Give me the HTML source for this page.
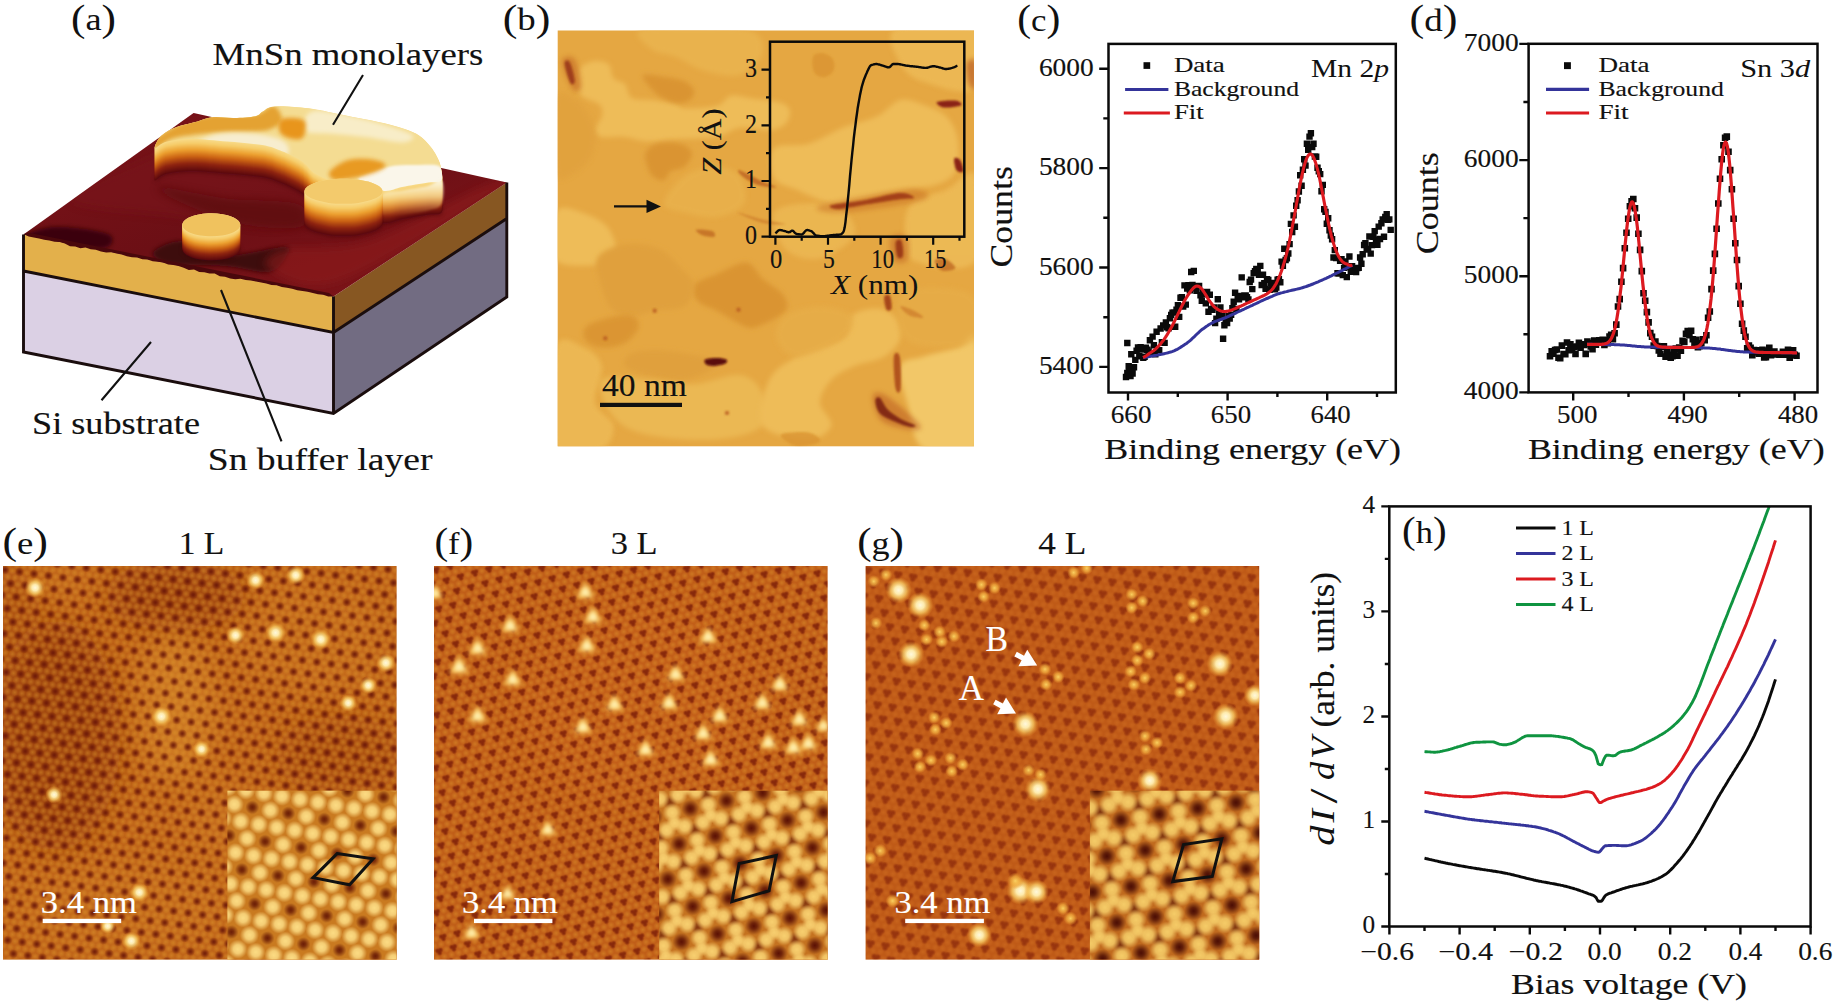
<!DOCTYPE html>
<html lang="en"><head><meta charset="utf-8"><title>MnSn monolayers figure</title>
<style>
html,body{margin:0;padding:0;background:#fff;}
body{width:1834px;height:1002px;overflow:hidden;}
svg{display:block;font-family:"Liberation Serif","Noto Serif CJK SC",serif;}
text{white-space:pre;}
</style></head><body>
<svg width="1834" height="1002" viewBox="0 0 1834 1002">
<rect width="1834" height="1002" fill="#fff"/>
<defs>
<linearGradient id="aTop" x1="0" y1="0" x2="1" y2="1"><stop offset="0" stop-color="#7c1419"/><stop offset="0.5" stop-color="#6c0f15"/><stop offset="1" stop-color="#82161a"/></linearGradient>
<filter id="ab2" x="-20%" y="-20%" width="140%" height="140%"><feGaussianBlur stdDeviation="2"/></filter>
<filter id="ab1" x="-20%" y="-20%" width="140%" height="140%"><feGaussianBlur stdDeviation="1"/></filter>
<filter id="ab4" x="-20%" y="-20%" width="140%" height="140%"><feGaussianBlur stdDeviation="4"/></filter>
<clipPath id="aTopClip"><polygon points="23.5,234.5 193.6,113 506.8,182.5 333.5,296.5"/></clipPath>
</defs>
<polygon points="23.5,271.0 333.5,332.5 333.5,413.4 23.5,352.0" fill="#dbd0e4"/>
<polygon points="333.5,332.5 506.8,218.5 506.8,297.0 333.5,413.4" fill="#726c82"/>
<polygon points="23.5,234.5 333.5,296.5 333.5,332.5 23.5,271.0" fill="#e3b04b"/>
<polygon points="333.5,296.5 506.8,182.5 506.8,218.5 333.5,332.5" fill="#875722"/>
<polygon points="23.5,234.5 193.6,113.0 506.8,182.5 333.5,296.5" fill="url(#aTop)"/>
<g clip-path="url(#aTopClip)">
<path d="M22.7 235.3C28.1 233.5 42.5 227.0 56.7 226.8C70.9 226.6 100.0 230.5 108.0 234.0C116.0 237.5 113.0 246.0 105.0 248.0C97.0 250.0 73.5 247.7 60.0 246.0C46.5 244.3 30.2 239.8 24.0 238.0C17.8 236.2 17.2 237.2 22.7 235.3Z" fill="#3a060a" filter="url(#ab2)"/>
<path d="M153.1 252.3C155.0 248.6 169.2 240.5 181.5 241.0C193.7 241.5 209.8 254.2 226.8 255.2C243.8 256.1 273.6 246.4 283.5 246.7C293.5 246.9 288.7 252.3 286.4 256.6C284.0 260.8 279.3 270.5 269.4 272.2C259.4 273.8 243.4 267.9 226.8 266.5C210.3 265.1 182.4 266.0 170.1 263.7C157.8 261.3 151.2 256.1 153.1 252.3Z" fill="#3d070b" filter="url(#ab2)"/>
<path d="M70.9 198.5C70.9 187.1 148.9 160.7 170.1 147.4C191.4 134.2 174.8 110.6 198.5 119.1C222.1 127.6 297.7 180.5 311.9 198.5C326.1 216.4 307.2 224.0 283.5 226.8C259.9 229.7 205.6 220.2 170.1 215.5C134.7 210.8 70.9 209.8 70.9 198.5Z" fill="#7a141a" opacity="0.5" filter="url(#ab4)"/>
<path d="M283.5 249.5C300.1 244.8 335.5 251.4 368.6 241.0C401.7 230.6 459.3 196.1 482.0 187.1C504.7 178.1 528.3 171.5 504.7 187.1C481.1 202.7 379.5 267.0 340.2 280.7C301.0 294.4 278.8 274.5 269.4 269.4C259.9 264.2 267.0 254.2 283.5 249.5Z" fill="#8e1c1c" opacity="0.6" filter="url(#ab4)"/>
<path d="M158.8 187.1C165.9 186.2 203.7 195.6 226.8 198.5C250.0 201.3 285.4 199.4 297.7 204.1C310.0 208.9 310.0 223.5 300.5 226.8C291.1 230.1 260.4 227.8 241.0 224.0C221.6 220.2 198.0 210.3 184.3 204.1C170.6 198.0 151.7 188.1 158.8 187.1Z" fill="#5a0a10" opacity="0.7" filter="url(#ab4)"/>
</g>
<polygon points="23.5,234.1 28.7,236.4 33.8,237.5 39.0,238.6 44.2,239.8 49.3,240.6 54.5,241.8 59.7,242.0 64.8,243.4 70.0,246.3 75.2,246.6 80.3,248.2 85.5,247.4 90.7,249.3 95.8,249.8 101.0,251.5 106.2,252.6 111.3,252.3 116.5,253.5 121.7,254.6 126.8,256.3 132.0,257.2 137.2,257.6 142.3,259.3 147.5,259.6 152.7,261.2 157.8,261.7 163.0,262.6 168.2,264.5 173.3,264.9 178.5,265.9 183.7,267.7 188.8,269.9 194.0,269.5 199.2,272.1 204.3,272.2 209.5,273.5 214.7,273.4 219.8,276.2 225.0,276.7 230.2,278.4 235.3,279.2 240.5,278.8 245.7,280.0 250.8,280.6 256.0,281.5 261.2,282.4 266.3,283.6 271.5,284.9 276.7,285.3 281.8,287.0 287.0,287.7 292.2,288.7 297.3,290.3 302.5,291.0 307.7,291.8 312.8,293.0 318.0,294.3 323.2,294.7 328.3,296.6 333.5,296.5 329.0,293.0 30.0,233.0" fill="#4a080c"/>
<path d="M154.8 148.5C153.7 147.9 157.0 140.9 159.2 138.0C161.4 135.1 164.5 133.1 167.9 131.0C171.4 129.0 175.2 127.4 180.2 125.8C185.1 124.2 192.1 122.9 197.6 121.4C203.2 120.0 207.2 117.7 213.4 117.1C219.5 116.5 227.3 118.1 234.3 117.9C241.3 117.8 250.6 117.2 255.3 116.2C259.9 115.2 259.7 113.4 262.3 111.8C264.9 110.3 266.6 107.8 271.0 106.9C275.4 106.1 281.2 106.2 288.5 106.6C295.7 107.0 307.4 108.2 314.7 109.2C322.0 110.2 324.9 111.3 332.1 112.7C339.4 114.2 349.6 116.2 358.3 117.9C367.1 119.7 376.7 121.3 384.5 123.2C392.4 125.1 399.7 127.2 405.5 129.3C411.3 131.4 415.4 133.0 419.5 135.8C423.6 138.5 427.0 142.5 430.0 145.9C432.9 149.3 435.1 152.9 436.9 156.4C438.7 159.9 440.1 162.8 440.8 166.9C441.5 170.9 443.4 178.2 441.3 180.8C439.2 183.4 434.8 181.5 428.2 182.6C421.7 183.6 409.3 185.7 402.0 187.1C394.7 188.5 391.8 191.4 384.5 191.0C377.3 190.5 367.1 186.0 358.3 184.3C349.6 182.6 339.4 182.6 332.1 180.8C324.9 179.0 319.0 176.2 314.7 173.5C310.3 170.8 308.9 167.3 305.9 164.8C303.0 162.3 301.6 160.9 297.2 158.5C292.8 156.1 285.6 152.5 279.7 150.3C273.9 148.0 271.0 146.5 262.3 145.0C253.5 143.6 239.0 142.5 227.3 141.5C215.7 140.5 202.6 138.9 192.4 138.9C182.2 138.9 172.5 140.1 166.2 141.7C159.9 143.3 156.0 149.1 154.8 148.5Z" transform="translate(0,33)" fill="#40060a" opacity="0.55" filter="url(#ab2)"/>
<defs><path id="aBig" d="M154.8 148.5C153.7 147.9 157.0 140.9 159.2 138.0C161.4 135.1 164.5 133.1 167.9 131.0C171.4 129.0 175.2 127.4 180.2 125.8C185.1 124.2 192.1 122.9 197.6 121.4C203.2 120.0 207.2 117.7 213.4 117.1C219.5 116.5 227.3 118.1 234.3 117.9C241.3 117.8 250.6 117.2 255.3 116.2C259.9 115.2 259.7 113.4 262.3 111.8C264.9 110.3 266.6 107.8 271.0 106.9C275.4 106.1 281.2 106.2 288.5 106.6C295.7 107.0 307.4 108.2 314.7 109.2C322.0 110.2 324.9 111.3 332.1 112.7C339.4 114.2 349.6 116.2 358.3 117.9C367.1 119.7 376.7 121.3 384.5 123.2C392.4 125.1 399.7 127.2 405.5 129.3C411.3 131.4 415.4 133.0 419.5 135.8C423.6 138.5 427.0 142.5 430.0 145.9C432.9 149.3 435.1 152.9 436.9 156.4C438.7 159.9 440.1 162.8 440.8 166.9C441.5 170.9 443.4 178.2 441.3 180.8C439.2 183.4 434.8 181.5 428.2 182.6C421.7 183.6 409.3 185.7 402.0 187.1C394.7 188.5 391.8 191.4 384.5 191.0C377.3 190.5 367.1 186.0 358.3 184.3C349.6 182.6 339.4 182.6 332.1 180.8C324.9 179.0 319.0 176.2 314.7 173.5C310.3 170.8 308.9 167.3 305.9 164.8C303.0 162.3 301.6 160.9 297.2 158.5C292.8 156.1 285.6 152.5 279.7 150.3C273.9 148.0 271.0 146.5 262.3 145.0C253.5 143.6 239.0 142.5 227.3 141.5C215.7 140.5 202.6 138.9 192.4 138.9C182.2 138.9 172.5 140.1 166.2 141.7C159.9 143.3 156.0 149.1 154.8 148.5Z"/></defs>
<use href="#aBig" y="32.0" fill="#5e0a0e"/>
<use href="#aBig" y="31.0" fill="#650e0e"/>
<use href="#aBig" y="30.0" fill="#6c110f"/>
<use href="#aBig" y="29.0" fill="#72150f"/>
<use href="#aBig" y="28.0" fill="#79190f"/>
<use href="#aBig" y="27.0" fill="#801c0f"/>
<use href="#aBig" y="26.0" fill="#872010"/>
<use href="#aBig" y="25.0" fill="#8e2410"/>
<use href="#aBig" y="24.0" fill="#962c11"/>
<use href="#aBig" y="23.0" fill="#9f3511"/>
<use href="#aBig" y="22.0" fill="#a73e12"/>
<use href="#aBig" y="21.0" fill="#af4612"/>
<use href="#aBig" y="20.0" fill="#b84f13"/>
<use href="#aBig" y="19.0" fill="#c05813"/>
<use href="#aBig" y="18.0" fill="#c96114"/>
<use href="#aBig" y="17.0" fill="#cf6a17"/>
<use href="#aBig" y="16.0" fill="#d4731b"/>
<use href="#aBig" y="15.0" fill="#d97c1f"/>
<use href="#aBig" y="14.0" fill="#de8624"/>
<use href="#aBig" y="13.0" fill="#e38f28"/>
<use href="#aBig" y="12.0" fill="#e8982c"/>
<use href="#aBig" y="11.0" fill="#eca132"/>
<use href="#aBig" y="10.0" fill="#eea83b"/>
<use href="#aBig" y="9.0" fill="#efaf44"/>
<use href="#aBig" y="8.0" fill="#f1b64d"/>
<use href="#aBig" y="7.0" fill="#f3bd56"/>
<use href="#aBig" y="6.0" fill="#f4c45f"/>
<use href="#aBig" y="5.0" fill="#f6cb68"/>
<use href="#aBig" y="4.0" fill="#f6cf70"/>
<use href="#aBig" y="3.0" fill="#f7d277"/>
<use href="#aBig" y="2.0" fill="#f7d57e"/>
<use href="#aBig" y="1.0" fill="#f8d985"/>
<use href="#aBig" y="0.0" fill="#f8dc8c"/>
<clipPath id="bigClip"><path d="M154.8 148.5C153.7 147.9 157.0 140.9 159.2 138.0C161.4 135.1 164.5 133.1 167.9 131.0C171.4 129.0 175.2 127.4 180.2 125.8C185.1 124.2 192.1 122.9 197.6 121.4C203.2 120.0 207.2 117.7 213.4 117.1C219.5 116.5 227.3 118.1 234.3 117.9C241.3 117.8 250.6 117.2 255.3 116.2C259.9 115.2 259.7 113.4 262.3 111.8C264.9 110.3 266.6 107.8 271.0 106.9C275.4 106.1 281.2 106.2 288.5 106.6C295.7 107.0 307.4 108.2 314.7 109.2C322.0 110.2 324.9 111.3 332.1 112.7C339.4 114.2 349.6 116.2 358.3 117.9C367.1 119.7 376.7 121.3 384.5 123.2C392.4 125.1 399.7 127.2 405.5 129.3C411.3 131.4 415.4 133.0 419.5 135.8C423.6 138.5 427.0 142.5 430.0 145.9C432.9 149.3 435.1 152.9 436.9 156.4C438.7 159.9 440.1 162.8 440.8 166.9C441.5 170.9 443.4 178.2 441.3 180.8C439.2 183.4 434.8 181.5 428.2 182.6C421.7 183.6 409.3 185.7 402.0 187.1C394.7 188.5 391.8 191.4 384.5 191.0C377.3 190.5 367.1 186.0 358.3 184.3C349.6 182.6 339.4 182.6 332.1 180.8C324.9 179.0 319.0 176.2 314.7 173.5C310.3 170.8 308.9 167.3 305.9 164.8C303.0 162.3 301.6 160.9 297.2 158.5C292.8 156.1 285.6 152.5 279.7 150.3C273.9 148.0 271.0 146.5 262.3 145.0C253.5 143.6 239.0 142.5 227.3 141.5C215.7 140.5 202.6 138.9 192.4 138.9C182.2 138.9 172.5 140.1 166.2 141.7C159.9 143.3 156.0 149.1 154.8 148.5Z"/></clipPath>
<g clip-path="url(#bigClip)">
<path d="M154.8 148.5C153.7 147.9 157.0 140.9 159.2 138.0C161.4 135.1 164.5 133.1 167.9 131.0C171.4 129.0 175.2 127.4 180.2 125.8C185.1 124.2 192.1 122.9 197.6 121.4C203.2 120.0 207.2 117.7 213.4 117.1C219.5 116.5 227.3 118.1 234.3 117.9C241.3 117.8 250.6 117.2 255.3 116.2C259.9 115.2 259.7 113.4 262.3 111.8C264.9 110.3 266.6 107.8 271.0 106.9C275.4 106.1 281.2 106.2 288.5 106.6C295.7 107.0 307.4 108.2 314.7 109.2C322.0 110.2 324.9 111.3 332.1 112.7C339.4 114.2 349.6 116.2 358.3 117.9C367.1 119.7 376.7 121.3 384.5 123.2C392.4 125.1 399.7 127.2 405.5 129.3C411.3 131.4 415.4 133.0 419.5 135.8C423.6 138.5 427.0 142.5 430.0 145.9C432.9 149.3 435.1 152.9 436.9 156.4C438.7 159.9 440.1 162.8 440.8 166.9C441.5 170.9 443.4 178.2 441.3 180.8C439.2 183.4 434.8 181.5 428.2 182.6C421.7 183.6 409.3 185.7 402.0 187.1C394.7 188.5 391.8 191.4 384.5 191.0C377.3 190.5 367.1 186.0 358.3 184.3C349.6 182.6 339.4 182.6 332.1 180.8C324.9 179.0 319.0 176.2 314.7 173.5C310.3 170.8 308.9 167.3 305.9 164.8C303.0 162.3 301.6 160.9 297.2 158.5C292.8 156.1 285.6 152.5 279.7 150.3C273.9 148.0 271.0 146.5 262.3 145.0C253.5 143.6 239.0 142.5 227.3 141.5C215.7 140.5 202.6 138.9 192.4 138.9C182.2 138.9 172.5 140.1 166.2 141.7C159.9 143.3 156.0 149.1 154.8 148.5Z" fill="#f4dc92"/>
<path d="M150.5 142.4C154.3 138.5 169.7 128.6 180.2 124.1C190.7 119.5 200.8 116.9 213.4 115.3C225.9 113.7 245.4 116.1 255.3 114.5C265.2 112.9 268.4 105.4 272.8 105.7C277.1 106.0 280.6 113.0 281.5 116.2C282.4 119.4 281.2 122.5 278.0 124.9C274.8 127.4 270.7 129.9 262.3 131.0C253.8 132.2 238.4 131.3 227.3 131.9C216.3 132.5 205.2 133.4 195.9 134.5C186.6 135.7 177.8 136.7 171.4 138.9C165.0 141.1 161.0 147.1 157.5 147.6C154.0 148.2 146.7 146.3 150.5 142.4Z" fill="#e4a232" filter="url(#ab2)"/>
<path d="M197.6 141.5C200.6 139.8 209.3 135.3 218.6 134.0C227.9 132.7 243.3 132.8 253.5 133.7C263.7 134.5 273.9 136.9 279.7 139.3C285.6 141.6 287.6 145.0 288.5 147.6C289.3 150.3 289.3 154.7 285.0 155.0C280.6 155.2 271.9 150.6 262.3 149.0C252.7 147.5 237.5 146.3 227.3 145.5C217.1 144.8 206.1 145.2 201.1 144.5C196.2 143.8 194.7 143.3 197.6 141.5Z" fill="#f7edcf" filter="url(#ab2)"/>
<path d="M304.2 121.4C305.4 117.9 307.1 111.8 314.7 111.0C322.2 110.1 338.0 113.9 349.6 116.2C361.3 118.5 374.1 121.7 384.5 124.9C395.0 128.1 409.6 132.5 412.5 135.4C415.4 138.3 409.6 142.1 402.0 142.4C394.4 142.7 378.7 138.6 367.1 137.2C355.4 135.7 342.0 134.5 332.1 133.7C322.2 132.8 312.3 134.0 307.7 131.9C303.0 129.9 303.0 124.9 304.2 121.4Z" fill="#f8edc8" filter="url(#ab2)"/>
<path d="M358.3 178.2C361.0 174.4 377.8 169.0 388.0 166.9C398.2 164.7 410.7 165.1 419.5 165.1C428.2 165.1 436.7 163.9 440.4 166.9C444.2 169.8 448.6 178.2 442.2 182.6C435.8 186.9 411.6 190.9 402.0 193.1C392.4 195.2 389.5 196.3 384.5 195.7C379.6 195.1 376.7 192.5 372.3 189.6C367.9 186.7 355.7 182.0 358.3 178.2Z" fill="#faf6ea" filter="url(#ab1)"/>
<path d="M279.7 120.6C281.5 118.2 286.1 117.9 290.2 117.9C294.3 117.9 301.7 118.2 304.2 120.6C306.7 122.9 305.6 128.9 305.1 131.9C304.5 135.0 303.5 137.9 300.7 138.9C297.9 139.9 292.0 139.2 288.5 138.0C285.0 136.9 281.2 134.8 279.7 131.9C278.3 129.0 278.0 122.9 279.7 120.6Z" fill="#e8951f" filter="url(#ab2)"/>
<path d="M329.5 172.1C331.3 168.9 339.9 162.9 346.1 160.7C352.4 158.6 360.7 158.6 367.1 159.0C373.5 159.4 382.2 161.6 384.5 163.4C386.9 165.1 385.1 167.3 381.0 169.5C377.0 171.7 367.7 174.7 360.1 176.5C352.5 178.2 340.7 180.7 335.6 180.0C330.5 179.2 327.8 175.3 329.5 172.1Z" fill="#e89a24" filter="url(#ab2)"/>
</g>
<linearGradient id="aWW" x1="0" y1="0" x2="0" y2="1"><stop offset="0" stop-color="#fbf6e6" stop-opacity="0.95"/><stop offset="0.45" stop-color="#f8e4a8" stop-opacity="0.7"/><stop offset="1" stop-color="#f0b040" stop-opacity="0"/></linearGradient>
<path d="M381.9 194.8C385.1 190.6 394.3 192.0 402.0 190.4C409.7 188.9 421.6 187.4 428.2 185.7C434.8 184.1 439.6 177.5 441.8 180.5C444.1 183.4 444.1 198.5 441.8 203.5C439.6 208.5 434.8 208.6 428.2 210.5C421.6 212.4 409.6 214.0 402.0 214.9C394.4 215.8 386.1 219.1 382.8 215.8C379.4 212.4 378.7 199.0 381.9 194.8Z" fill="url(#aWW)" filter="url(#ab1)"/>
<path d="M382.5 191.3C382.5 192.9 381.4 194.6 379.5 196.1C377.6 197.6 374.6 199.0 371.1 200.1C367.6 201.3 363.0 202.2 358.4 202.9C353.8 203.5 348.5 203.8 343.5 203.8C338.5 203.8 333.2 203.5 328.6 202.9C324.0 202.2 319.4 201.3 315.9 200.1C312.4 199.0 309.4 197.6 307.5 196.1C305.6 194.6 304.5 192.9 304.5 191.3C304.5 189.7 305.6 188.0 307.5 186.5C309.4 185.1 312.4 183.6 315.9 182.5C319.4 181.3 324.0 180.4 328.6 179.8C333.2 179.2 338.5 178.8 343.5 178.8C348.5 178.8 353.8 179.2 358.4 179.8C363.0 180.4 367.6 181.3 371.1 182.5C374.6 183.6 377.6 185.1 379.5 186.5C381.4 188.0 382.5 189.7 382.5 191.3Z" transform="translate(0,33)" fill="#40060a" opacity="0.55" filter="url(#ab2)"/>
<defs><path id="aLobe" d="M382.5 191.3C382.5 192.9 381.4 194.6 379.5 196.1C377.6 197.6 374.6 199.0 371.1 200.1C367.6 201.3 363.0 202.2 358.4 202.9C353.8 203.5 348.5 203.8 343.5 203.8C338.5 203.8 333.2 203.5 328.6 202.9C324.0 202.2 319.4 201.3 315.9 200.1C312.4 199.0 309.4 197.6 307.5 196.1C305.6 194.6 304.5 192.9 304.5 191.3C304.5 189.7 305.6 188.0 307.5 186.5C309.4 185.1 312.4 183.6 315.9 182.5C319.4 181.3 324.0 180.4 328.6 179.8C333.2 179.2 338.5 178.8 343.5 178.8C348.5 178.8 353.8 179.2 358.4 179.8C363.0 180.4 367.6 181.3 371.1 182.5C374.6 183.6 377.6 185.1 379.5 186.5C381.4 188.0 382.5 189.7 382.5 191.3Z"/></defs>
<use href="#aLobe" y="32.0" fill="#5e0a0e"/>
<use href="#aLobe" y="31.0" fill="#650e0e"/>
<use href="#aLobe" y="30.0" fill="#6c110f"/>
<use href="#aLobe" y="29.0" fill="#72150f"/>
<use href="#aLobe" y="28.0" fill="#79190f"/>
<use href="#aLobe" y="27.0" fill="#801c0f"/>
<use href="#aLobe" y="26.0" fill="#872010"/>
<use href="#aLobe" y="25.0" fill="#8e2410"/>
<use href="#aLobe" y="24.0" fill="#962c11"/>
<use href="#aLobe" y="23.0" fill="#9f3511"/>
<use href="#aLobe" y="22.0" fill="#a73e12"/>
<use href="#aLobe" y="21.0" fill="#af4612"/>
<use href="#aLobe" y="20.0" fill="#b84f13"/>
<use href="#aLobe" y="19.0" fill="#c05813"/>
<use href="#aLobe" y="18.0" fill="#c96114"/>
<use href="#aLobe" y="17.0" fill="#cf6a17"/>
<use href="#aLobe" y="16.0" fill="#d4731b"/>
<use href="#aLobe" y="15.0" fill="#d97c1f"/>
<use href="#aLobe" y="14.0" fill="#de8624"/>
<use href="#aLobe" y="13.0" fill="#e38f28"/>
<use href="#aLobe" y="12.0" fill="#e8982c"/>
<use href="#aLobe" y="11.0" fill="#eca132"/>
<use href="#aLobe" y="10.0" fill="#eea83b"/>
<use href="#aLobe" y="9.0" fill="#efaf44"/>
<use href="#aLobe" y="8.0" fill="#f1b64d"/>
<use href="#aLobe" y="7.0" fill="#f3bd56"/>
<use href="#aLobe" y="6.0" fill="#f4c45f"/>
<use href="#aLobe" y="5.0" fill="#f6cb68"/>
<use href="#aLobe" y="4.0" fill="#f6cf70"/>
<use href="#aLobe" y="3.0" fill="#f7d277"/>
<use href="#aLobe" y="2.0" fill="#f7d57e"/>
<use href="#aLobe" y="1.0" fill="#f8d985"/>
<use href="#aLobe" y="0.0" fill="#f8dc8c"/>
<path d="M382.5 191.3C382.5 192.9 381.4 194.6 379.5 196.1C377.6 197.6 374.6 199.0 371.1 200.1C367.6 201.3 363.0 202.2 358.4 202.9C353.8 203.5 348.5 203.8 343.5 203.8C338.5 203.8 333.2 203.5 328.6 202.9C324.0 202.2 319.4 201.3 315.9 200.1C312.4 199.0 309.4 197.6 307.5 196.1C305.6 194.6 304.5 192.9 304.5 191.3C304.5 189.7 305.6 188.0 307.5 186.5C309.4 185.1 312.4 183.6 315.9 182.5C319.4 181.3 324.0 180.4 328.6 179.8C333.2 179.2 338.5 178.8 343.5 178.8C348.5 178.8 353.8 179.2 358.4 179.8C363.0 180.4 367.6 181.3 371.1 182.5C374.6 183.6 377.6 185.1 379.5 186.5C381.4 188.0 382.5 189.7 382.5 191.3Z" fill="#f3ca6c"/>
<path d="M240.3 224.8C240.3 226.3 239.5 227.9 238.1 229.2C236.6 230.6 234.4 231.9 231.8 233.0C229.2 234.0 225.8 234.9 222.4 235.5C218.9 236.0 215.0 236.3 211.3 236.3C207.6 236.3 203.6 236.0 200.2 235.5C196.8 234.9 193.4 234.0 190.8 233.0C188.1 231.9 185.9 230.6 184.5 229.2C183.1 227.9 182.3 226.3 182.3 224.8C182.3 223.4 183.1 221.8 184.5 220.4C185.9 219.1 188.1 217.8 190.8 216.7C193.4 215.7 196.8 214.8 200.2 214.2C203.6 213.7 207.6 213.3 211.3 213.3C215.0 213.3 218.9 213.7 222.4 214.2C225.8 214.8 229.2 215.7 231.8 216.7C234.4 217.8 236.6 219.1 238.1 220.4C239.5 221.8 240.3 223.4 240.3 224.8Z" transform="translate(0,25)" fill="#40060a" opacity="0.55" filter="url(#ab2)"/>
<defs><path id="aSm" d="M240.3 224.8C240.3 226.3 239.5 227.9 238.1 229.2C236.6 230.6 234.4 231.9 231.8 233.0C229.2 234.0 225.8 234.9 222.4 235.5C218.9 236.0 215.0 236.3 211.3 236.3C207.6 236.3 203.6 236.0 200.2 235.5C196.8 234.9 193.4 234.0 190.8 233.0C188.1 231.9 185.9 230.6 184.5 229.2C183.1 227.9 182.3 226.3 182.3 224.8C182.3 223.4 183.1 221.8 184.5 220.4C185.9 219.1 188.1 217.8 190.8 216.7C193.4 215.7 196.8 214.8 200.2 214.2C203.6 213.7 207.6 213.3 211.3 213.3C215.0 213.3 218.9 213.7 222.4 214.2C225.8 214.8 229.2 215.7 231.8 216.7C234.4 217.8 236.6 219.1 238.1 220.4C239.5 221.8 240.3 223.4 240.3 224.8Z"/></defs>
<use href="#aSm" y="24.0" fill="#5e0a0e"/>
<use href="#aSm" y="23.0" fill="#670f0e"/>
<use href="#aSm" y="22.0" fill="#70140f"/>
<use href="#aSm" y="21.0" fill="#79190f"/>
<use href="#aSm" y="20.0" fill="#821e10"/>
<use href="#aSm" y="19.0" fill="#8b2310"/>
<use href="#aSm" y="18.0" fill="#962c11"/>
<use href="#aSm" y="17.0" fill="#a13811"/>
<use href="#aSm" y="16.0" fill="#ad4412"/>
<use href="#aSm" y="15.0" fill="#b84f13"/>
<use href="#aSm" y="14.0" fill="#c35b13"/>
<use href="#aSm" y="13.0" fill="#cd6715"/>
<use href="#aSm" y="12.0" fill="#d4731b"/>
<use href="#aSm" y="11.0" fill="#db8021"/>
<use href="#aSm" y="10.0" fill="#e18c27"/>
<use href="#aSm" y="9.0" fill="#e8982c"/>
<use href="#aSm" y="8.0" fill="#eda435"/>
<use href="#aSm" y="7.0" fill="#efad41"/>
<use href="#aSm" y="6.0" fill="#f1b64d"/>
<use href="#aSm" y="5.0" fill="#f3bf59"/>
<use href="#aSm" y="4.0" fill="#f5c865"/>
<use href="#aSm" y="3.0" fill="#f6cf70"/>
<use href="#aSm" y="2.0" fill="#f7d379"/>
<use href="#aSm" y="1.0" fill="#f7d883"/>
<use href="#aSm" y="0.0" fill="#f8dc8c"/>
<path d="M240.3 224.8C240.3 226.3 239.5 227.9 238.1 229.2C236.6 230.6 234.4 231.9 231.8 233.0C229.2 234.0 225.8 234.9 222.4 235.5C218.9 236.0 215.0 236.3 211.3 236.3C207.6 236.3 203.6 236.0 200.2 235.5C196.8 234.9 193.4 234.0 190.8 233.0C188.1 231.9 185.9 230.6 184.5 229.2C183.1 227.9 182.3 226.3 182.3 224.8C182.3 223.4 183.1 221.8 184.5 220.4C185.9 219.1 188.1 217.8 190.8 216.7C193.4 215.7 196.8 214.8 200.2 214.2C203.6 213.7 207.6 213.3 211.3 213.3C215.0 213.3 218.9 213.7 222.4 214.2C225.8 214.8 229.2 215.7 231.8 216.7C234.4 217.8 236.6 219.1 238.1 220.4C239.5 221.8 240.3 223.4 240.3 224.8Z" fill="#f0c25e"/>
<path d="M23.5 234.5V352L333.5 413.4L506.8 297V182.5M333.5 296.5V413.4M23.5 271L333.5 332.5L506.8 218.5" fill="none" stroke="#1a0d0d" stroke-width="2.9" stroke-linejoin="miter"/>
<path d="M363 75L333 124.7M151 342L101.5 400.3M221 290L281.5 441.4" stroke="#111" stroke-width="2.1" fill="none"/>
<text x="212.6" y="64.6" font-size="31" fill="#111" stroke="#111" stroke-width="0.15" textLength="270.8" lengthAdjust="spacingAndGlyphs">MnSn monolayers</text>
<text x="32.0" y="434.0" font-size="31" fill="#111" stroke="#111" stroke-width="0.15" textLength="168.0" lengthAdjust="spacingAndGlyphs">Si substrate</text>
<text x="207.8" y="469.8" font-size="31" fill="#111" stroke="#111" stroke-width="0.15" textLength="224.6" lengthAdjust="spacingAndGlyphs">Sn buffer layer</text>
<text x="71.0" y="30.0" font-size="31" fill="#111" textLength="45.0" lengthAdjust="spacingAndGlyphs"><tspan font-size="37" dy="0.5">(</tspan><tspan dy="-0.5">a</tspan><tspan font-size="37" dy="0.5">)</tspan></text>
<defs>
<clipPath id="bClip"><rect x="557.7" y="30.5" width="416.3" height="415.8"/></clipPath>
<filter id="bb3" x="-20%" y="-20%" width="140%" height="140%"><feGaussianBlur stdDeviation="2.5"/></filter>
<filter id="bb1" x="-30%" y="-30%" width="160%" height="160%"><feGaussianBlur stdDeviation="1.3"/></filter>
<filter id="bb6" x="-30%" y="-30%" width="160%" height="160%"><feGaussianBlur stdDeviation="6"/></filter>
<filter id="bnoise" x="0" y="0" width="100%" height="100%"><feTurbulence type="fractalNoise" baseFrequency="0.012" numOctaves="3" seed="11"/><feColorMatrix type="matrix" values="0 0 0 0 1  0 0 0 0 0.78  0 0 0 0 0.35  1.6 0 0 0 -0.62"/></filter>
</defs>
<rect x="557.7" y="30.5" width="416.3" height="415.8" fill="#e5a742"/>
<g clip-path="url(#bClip)">
<path d="M643.2 29.0C658.5 25.6 724.3 25.2 744.2 29.0C764.1 32.8 763.3 44.3 762.6 52.0C761.8 59.6 749.6 71.8 739.6 74.9C729.7 78.0 713.6 73.4 702.9 70.3C692.2 67.3 683.8 60.0 675.3 56.5C666.9 53.1 657.8 54.2 652.4 49.7C647.0 45.1 627.9 32.4 643.2 29.0Z" fill="#e9b24d" opacity="1.0" filter="url(#bb3)"/>
<path d="M580.1 68.0C582.8 64.6 590.2 61.7 595.0 61.1C599.8 60.6 605.7 61.7 608.8 64.6C611.8 67.4 610.7 75.1 613.4 78.3C616.1 81.6 621.8 80.8 624.9 84.1C627.9 87.3 627.1 95.2 631.7 97.9C636.3 100.5 645.1 99.2 652.4 100.1C659.7 101.1 670.0 102.3 675.3 103.6C680.7 104.9 677.6 107.8 684.5 108.2C691.4 108.6 709.0 107.9 716.7 105.9C724.3 103.9 725.1 97.4 730.4 96.0C735.8 94.7 739.6 96.4 748.8 97.9C758.0 99.3 779.0 100.9 785.5 104.7C792.0 108.6 790.1 116.6 787.8 120.8C785.5 125.0 779.8 128.8 771.7 130.0C763.7 131.1 748.8 126.5 739.6 127.7C730.4 128.8 727.4 135.0 716.7 136.9C706.0 138.8 686.8 138.4 675.3 139.2C663.9 139.9 656.2 141.8 647.8 141.5C639.4 141.1 632.5 137.6 624.9 136.9C617.2 136.1 606.9 138.0 601.9 136.9C596.9 135.7 595.0 133.4 595.0 130.0C595.0 126.5 601.1 120.4 601.9 116.2C602.7 112.0 603.1 108.2 599.6 104.7C596.2 101.3 584.7 99.4 581.2 95.6C577.8 91.7 579.1 86.4 579.0 81.8C578.8 77.2 577.4 71.5 580.1 68.0Z" fill="#eebc58" opacity="1.0" filter="url(#bb3)"/>
<path d="M643.2 74.9C645.9 73.6 657.0 75.7 663.9 76.7C670.8 77.8 679.5 79.0 684.5 81.3C689.6 83.7 693.4 87.8 694.2 91.0C694.9 94.2 692.3 98.6 689.1 100.6C686.0 102.6 680.3 103.7 675.3 102.9C670.4 102.1 663.9 99.1 659.3 96.0C654.7 93.0 650.5 88.1 647.8 84.5C645.1 81.0 640.5 76.2 643.2 74.9Z" fill="#da9433" opacity="1.0" filter="url(#bb3)"/>
<path d="M645.5 152.9C647.2 149.5 651.2 145.3 657.0 143.8C662.7 142.2 674.1 142.2 679.9 143.8C685.8 145.3 691.1 149.1 691.9 152.9C692.6 156.8 688.0 163.6 684.5 166.7C681.0 169.8 674.2 169.0 670.8 171.3C667.3 173.6 666.9 179.7 663.9 180.5C660.8 181.2 655.3 178.6 652.4 175.9C649.5 173.2 647.8 168.2 646.7 164.4C645.5 160.6 643.8 156.4 645.5 152.9Z" fill="#da9433" opacity="1.0" filter="url(#bb3)"/>
<path d="M774.0 148.3C779.8 142.6 797.0 147.2 808.5 143.8C819.9 140.3 831.4 132.3 842.9 127.7C854.4 123.1 867.8 120.8 877.3 116.2C886.9 111.6 892.6 102.1 900.3 100.1C907.9 98.2 915.6 102.1 923.2 104.7C930.9 107.4 940.4 110.5 946.2 116.2C951.9 122.0 956.1 130.0 957.7 139.2C959.2 148.3 959.2 163.6 955.4 171.3C951.5 179.0 943.9 182.0 934.7 185.1C925.5 188.1 913.7 187.0 900.3 189.7C886.9 192.3 865.8 198.8 854.4 201.1C842.9 203.4 841.0 205.3 831.4 203.4C821.9 201.5 806.6 193.9 797.0 189.7C787.4 185.5 777.9 185.1 774.0 178.2C770.2 171.3 768.3 154.1 774.0 148.3Z" fill="#eebc58" opacity="1.0" filter="url(#bb3)"/>
<path d="M895.7 29.0C908.3 23.3 962.6 19.1 976.0 29.0C989.4 38.9 984.8 79.9 976.0 88.7C967.2 97.5 935.8 86.0 923.2 81.8C910.6 77.6 904.9 72.2 900.3 63.4C895.7 54.6 883.1 34.7 895.7 29.0Z" fill="#eebc58" opacity="0.8" filter="url(#bb3)"/>
<path d="M813.1 56.5C814.4 53.3 819.0 52.7 822.2 53.1C825.5 53.5 830.7 56.0 832.6 58.8C834.5 61.7 835.1 67.3 833.7 70.3C832.4 73.4 827.8 76.8 824.5 77.2C821.3 77.6 816.1 76.1 814.2 72.6C812.3 69.2 811.7 59.8 813.1 56.5Z" fill="#da9433" opacity="0.8" filter="url(#bb1)"/>
<path d="M556.0 212.6C559.8 204.4 570.2 208.8 579.0 211.5C587.7 214.1 603.2 220.5 608.8 228.7C614.3 236.9 621.0 255.5 612.2 260.8C603.4 266.2 565.4 268.8 556.0 260.8C546.6 252.8 552.2 220.8 556.0 212.6Z" fill="#eebc58" opacity="1.0" filter="url(#bb3)"/>
<path d="M556.0 97.9C559.8 86.4 572.4 97.1 579.0 102.4C585.5 107.8 593.1 120.8 595.0 130.0C596.9 139.2 594.6 149.9 590.4 157.5C586.2 165.2 575.5 173.6 569.8 175.9C564.0 178.2 558.3 184.3 556.0 171.3C553.7 158.3 552.2 109.3 556.0 97.9Z" fill="#e0a03c" opacity="0.7" filter="url(#bb3)"/>
<path d="M684.5 175.9C693.3 169.8 707.5 166.7 716.7 166.7C725.8 166.7 735.0 169.8 739.6 175.9C744.2 182.0 748.0 196.5 744.2 203.4C740.4 210.3 726.6 215.7 716.7 217.2C706.7 218.7 693.3 214.9 684.5 212.6C675.7 210.3 663.9 209.6 663.9 203.4C663.9 197.3 675.7 182.0 684.5 175.9Z" fill="#e9b24d" opacity="0.8" filter="url(#bb3)"/>
<path d="M774.0 212.6C777.9 205.0 797.0 203.8 808.5 203.4C819.9 203.0 835.2 205.0 842.9 210.3C850.5 215.7 858.2 227.5 854.4 235.6C850.5 243.6 831.4 256.2 819.9 258.5C808.5 260.8 793.2 257.0 785.5 249.3C777.9 241.7 770.2 220.3 774.0 212.6Z" fill="#eebc58" opacity="0.7" filter="url(#bb3)"/>
<path d="M911.7 203.4C918.6 196.5 935.5 194.3 946.2 189.7C956.9 185.1 971.0 164.0 976.0 175.9C981.0 187.7 986.3 246.7 976.0 260.8C965.7 275.0 925.9 265.8 914.0 260.8C902.2 255.8 905.2 240.5 904.9 231.0C904.5 221.4 904.9 210.3 911.7 203.4Z" fill="#eebc58" opacity="0.85" filter="url(#bb3)"/>
<path d="M693.7 285.6C696.8 281.0 707.9 277.9 716.7 274.1C725.5 270.3 738.8 261.8 746.5 262.6C754.1 263.4 756.4 273.3 762.6 278.7C768.7 284.0 779.4 289.4 783.2 294.7C787.0 300.1 789.0 305.8 785.5 310.8C782.1 315.8 769.1 321.9 762.6 324.6C756.1 327.3 754.1 329.2 746.5 326.9C738.8 324.6 724.7 315.0 716.7 310.8C708.6 306.6 702.1 305.8 698.3 301.6C694.5 297.4 690.6 290.1 693.7 285.6Z" fill="#da9433" opacity="1.0" filter="url(#bb3)"/>
<path d="M597.3 258.0C601.1 250.7 614.5 245.8 624.9 244.2C635.2 242.7 649.3 244.2 659.3 248.8C669.2 253.4 678.8 265.7 684.5 271.8C690.3 277.9 693.7 279.8 693.7 285.6C693.7 291.3 691.0 302.0 684.5 306.2C678.0 310.4 662.7 309.3 654.7 310.8C646.7 312.3 643.2 315.4 636.3 315.4C629.4 315.4 619.1 315.4 613.4 310.8C607.6 306.2 604.6 296.7 601.9 287.9C599.2 279.1 593.5 265.3 597.3 258.0Z" fill="#e0a03c" opacity="1.0" filter="url(#bb3)"/>
<path d="M585.8 326.9C589.7 323.0 601.1 319.6 608.8 317.7C616.4 315.8 626.8 313.9 631.7 315.4C636.7 316.9 639.8 322.3 638.6 326.9C637.5 331.5 631.0 339.5 624.9 342.9C618.7 346.4 608.4 347.9 601.9 347.5C595.4 347.1 588.5 344.1 585.8 340.6C583.2 337.2 582.0 330.7 585.8 326.9Z" fill="#da9433" opacity="0.9" filter="url(#bb3)"/>
<path d="M631.7 353.3C637.5 350.7 647.4 349.7 659.3 350.3C671.1 350.9 693.3 354.1 702.9 356.7C712.5 359.3 719.7 362.1 716.7 365.9C713.6 369.7 696.0 378.1 684.5 379.7C673.1 381.2 657.8 377.4 647.8 375.1C637.9 372.8 627.5 369.5 624.9 365.9C622.2 362.3 626.0 355.9 631.7 353.3Z" fill="#e0a03c" opacity="1.0" filter="url(#bb3)"/>
<path d="M556.0 347.5C560.6 330.7 575.9 344.5 583.5 347.5C591.2 350.6 600.0 356.7 601.9 365.9C603.8 375.1 593.1 392.7 595.0 402.6C596.9 412.6 612.2 417.9 613.4 425.6C614.5 433.2 611.5 444.7 601.9 448.5C592.3 452.3 563.7 465.3 556.0 448.5C548.3 431.7 551.4 364.4 556.0 347.5Z" fill="#eebc58" opacity="0.8" filter="url(#bb3)"/>
<path d="M601.9 379.7C607.6 373.5 632.5 378.9 647.8 379.7C663.1 380.4 678.4 385.0 693.7 384.3C709.0 383.5 728.1 373.5 739.6 375.1C751.1 376.6 758.7 385.0 762.6 393.4C766.4 401.8 770.2 417.9 762.6 425.6C754.9 433.2 735.8 437.8 716.7 439.3C697.5 440.9 665.0 438.6 647.8 434.7C630.6 430.9 621.0 425.6 613.4 416.4C605.7 407.2 596.2 385.8 601.9 379.7Z" fill="#ebb853" opacity="1.0" filter="url(#bb3)"/>
<path d="M852.1 315.4C857.8 310.4 870.1 308.1 877.3 308.5C884.6 308.9 891.9 312.7 895.7 317.7C899.5 322.7 902.2 331.8 900.3 338.3C898.4 344.9 891.9 352.1 884.2 356.7C876.6 361.3 863.2 362.1 854.4 365.9C845.6 369.7 837.2 373.5 831.4 379.7C825.7 385.8 819.9 395.0 819.9 402.6C819.9 410.3 833.3 419.4 831.4 425.6C829.5 431.7 819.9 439.3 808.5 439.3C797.0 439.3 769.1 435.5 762.6 425.6C756.1 415.6 763.7 391.1 769.4 379.7C775.2 368.2 784.8 363.6 797.0 356.7C809.2 349.8 833.7 345.2 842.9 338.3C852.1 331.5 846.3 320.4 852.1 315.4Z" fill="#eebc58" opacity="1.0" filter="url(#bb3)"/>
<path d="M900.3 365.9C903.0 358.2 913.7 359.8 923.2 356.7C932.8 353.6 948.9 350.2 957.7 347.5C966.5 344.9 973.0 323.8 976.0 340.6C979.1 357.5 984.8 430.5 976.0 448.5C967.2 466.5 934.7 456.2 923.2 448.5C911.7 440.9 911.0 416.4 907.2 402.6C903.3 388.8 897.6 373.5 900.3 365.9Z" fill="#f2c768" opacity="1.0" filter="url(#bb3)"/>
<path d="M785.5 315.4C792.8 310.0 808.8 306.2 819.9 306.2C831.0 306.2 848.3 310.0 852.1 315.4C855.9 320.8 852.1 331.5 842.9 338.3C833.7 345.2 808.1 356.7 797.0 356.7C785.9 356.7 778.2 345.2 776.3 338.3C774.4 331.5 778.2 320.8 785.5 315.4Z" fill="#e7ae49" opacity="0.8" filter="url(#bb3)"/>
<path d="M900.3 294.7C907.2 286.3 933.6 287.1 946.2 287.9C958.8 288.6 971.0 290.9 976.0 299.3C981.0 307.7 981.0 330.3 976.0 338.3C971.0 346.4 958.0 347.5 946.2 347.5C934.3 347.5 912.5 347.1 904.9 338.3C897.2 329.6 893.4 303.2 900.3 294.7Z" fill="#e7ae49" opacity="0.7" filter="url(#bb3)"/>
<path d="M780.9 434.7C782.8 432.4 802.0 431.3 808.5 432.4C815.0 433.6 821.9 439.3 819.9 441.6C818.0 443.9 803.5 447.4 797.0 446.2C790.5 445.1 779.0 437.0 780.9 434.7Z" fill="#da9433" opacity="0.8" filter="url(#bb1)"/>
<path d="M564.7 63.4C564.6 60.0 568.1 59.4 569.8 62.3C571.5 65.1 574.7 77.2 574.8 80.6C575.0 84.1 572.4 85.8 570.7 82.9C569.0 80.1 564.9 66.9 564.7 63.4Z" fill="#7a1612" opacity="1.0" filter="url(#bb1)"/>
<path d="M561.7 61.1C562.1 56.2 571.1 54.6 574.4 58.8C577.6 63.0 581.6 81.4 581.2 86.4C580.9 91.4 575.3 92.9 572.1 88.7C568.8 84.5 561.4 66.1 561.7 61.1Z" fill="#c06424" opacity="0.55" filter="url(#bb3)"/>
<path d="M937.0 102.0C938.9 100.8 951.3 100.1 955.4 100.6C959.4 101.1 963.0 104.1 961.1 105.2C959.2 106.3 947.9 108.0 943.9 107.5C939.9 107.0 935.1 103.1 937.0 102.0Z" fill="#8a2216" opacity="1.0" filter="url(#bb1)"/>
<path d="M954.2 158.7C954.8 157.0 958.4 157.7 959.9 159.8C961.5 161.9 964.0 169.6 963.4 171.3C962.8 173.0 958.0 172.3 956.5 170.2C955.0 168.0 953.6 160.4 954.2 158.7Z" fill="#8a2216" opacity="1.0" filter="url(#bb1)"/>
<path d="M966.8 63.4C968.0 59.6 974.5 56.9 976.0 61.1C977.5 65.3 977.2 84.8 976.0 88.7C974.9 92.5 970.7 88.3 969.1 84.1C967.6 79.9 965.7 67.3 966.8 63.4Z" fill="#b85a20" opacity="0.7" filter="url(#bb3)"/>
<path d="M831.4 205.3C836.0 203.7 854.4 202.0 865.8 200.0C877.3 198.0 892.2 193.5 900.3 193.1C908.3 192.7 914.0 196.7 914.0 197.7C914.0 198.7 908.3 198.2 900.3 199.3C892.2 200.4 876.2 202.9 865.8 204.6C855.5 206.2 844.0 209.1 838.3 209.2C832.6 209.3 826.8 206.8 831.4 205.3Z" fill="#8a2216" opacity="1.0" filter="url(#bb1)"/>
<path d="M819.9 205.7C831.0 201.9 892.2 190.6 909.5 189.7C926.7 188.7 934.3 196.2 923.2 200.0C912.1 203.8 860.1 211.7 842.9 212.6C825.7 213.6 808.8 209.6 819.9 205.7Z" fill="#c4681e" opacity="0.45" filter="url(#bb3)"/>
<path d="M739.6 170.2C743.1 171.1 756.4 178.8 762.6 181.6C768.7 184.5 777.1 186.8 776.3 187.4C775.6 187.9 763.7 187.0 758.0 185.1C752.2 183.2 745.0 178.4 741.9 175.9C738.8 173.4 736.2 169.2 739.6 170.2Z" fill="#b8581c" opacity="0.7" filter="url(#bb1)"/>
<path d="M737.3 212.6C737.3 212.0 754.5 217.6 762.6 219.5C770.6 221.4 785.5 223.5 785.5 224.1C785.5 224.7 770.6 224.9 762.6 222.9C754.5 221.0 737.3 213.2 737.3 212.6Z" fill="#c87428" opacity="0.6" filter="url(#bb1)"/>
<path d="M696.0 229.8C697.5 229.1 709.0 229.8 712.1 231.0C715.1 232.1 715.9 235.9 714.4 236.7C712.8 237.5 706.0 236.7 702.9 235.6C699.8 234.4 694.5 230.6 696.0 229.8Z" fill="#c06a22" opacity="0.8" filter="url(#bb1)"/>
<path d="M895.7 242.0C896.3 239.3 900.2 238.5 901.4 240.8C902.6 243.1 903.7 253.0 903.0 255.7C902.4 258.4 898.7 259.2 897.5 256.9C896.3 254.6 895.0 244.6 895.7 242.0Z" fill="#7a1410" opacity="1.0" filter="url(#bb1)"/>
<path d="M891.1 237.4C893.4 233.5 904.5 233.5 907.2 237.4C909.8 241.2 909.5 256.5 907.2 260.3C904.9 264.1 896.1 264.1 893.4 260.3C890.7 256.5 888.8 241.2 891.1 237.4Z" fill="#c06424" opacity="0.5" filter="url(#bb3)"/>
<path d="M884.2 297.0C884.8 294.7 888.7 294.0 889.9 295.9C891.2 297.8 892.1 306.2 891.6 308.5C891.0 310.8 887.7 311.6 886.5 309.7C885.3 307.7 883.6 299.3 884.2 297.0Z" fill="#a03c18" opacity="0.9" filter="url(#bb1)"/>
<path d="M893.8 356.7C894.5 351.4 898.7 351.4 899.8 356.7C901.0 362.1 901.4 383.5 900.7 388.8C900.0 394.2 896.8 394.2 895.7 388.8C894.5 383.5 893.2 362.1 893.8 356.7Z" fill="#a84418" opacity="0.85" filter="url(#bb1)"/>
<path d="M934.7 260.3C935.5 258.4 942.7 257.8 946.2 259.2C949.6 260.5 956.1 266.4 955.4 268.3C954.6 270.3 945.0 272.0 941.6 270.6C938.1 269.3 933.9 262.2 934.7 260.3Z" fill="#c06a22" opacity="0.8" filter="url(#bb1)"/>
<path d="M900.3 306.2C901.0 305.5 910.2 308.9 914.0 310.8C917.9 312.7 924.0 316.9 923.2 317.7C922.5 318.5 913.3 317.3 909.5 315.4C905.6 313.5 899.5 307.0 900.3 306.2Z" fill="#cc7a2a" opacity="0.7" filter="url(#bb1)"/>
<path d="M705.2 359.5C706.9 358.4 713.1 357.9 716.7 357.9C720.2 357.9 724.8 358.5 726.3 359.5C727.8 360.4 727.4 362.5 725.4 363.6C723.4 364.7 717.5 365.7 714.4 365.9C711.2 366.0 707.9 365.6 706.3 364.5C704.8 363.4 703.5 360.6 705.2 359.5Z" fill="#5a080c" opacity="1.0" filter="url(#bb1)"/>
<path d="M875.5 400.3C875.6 397.8 878.0 396.5 880.1 398.0C882.1 399.6 884.3 406.1 887.7 409.5C891.0 412.9 895.7 416.0 900.3 418.7C904.9 421.4 913.7 424.2 915.2 425.6C916.7 426.9 913.1 427.5 909.5 426.7C905.8 425.9 898.4 423.3 893.4 421.0C888.4 418.7 882.6 416.4 879.6 412.9C876.6 409.5 875.4 402.8 875.5 400.3Z" fill="#50060a" opacity="1.0" filter="url(#bb1)"/>
<path d="M872.7 395.7C873.5 391.5 878.9 391.1 886.5 395.7C894.2 400.3 914.0 417.5 918.6 423.3C923.2 429.0 920.2 430.5 914.0 430.2C907.9 429.8 888.8 426.7 881.9 421.0C875.0 415.2 872.0 399.9 872.7 395.7Z" fill="#b8541c" opacity="0.5" filter="url(#bb3)"/>
<circle cx="654.7" cy="310.8" r="2.2" fill="#b85a20" opacity="0.8" filter="url(#bb1)"/>
<circle cx="738.5" cy="309.7" r="2.2" fill="#b85a20" opacity="0.8" filter="url(#bb1)"/>
<circle cx="605.3" cy="338.3" r="2.2" fill="#b85a20" opacity="0.8" filter="url(#bb1)"/>
<circle cx="727.0" cy="412.9" r="2.2" fill="#b85a20" opacity="0.8" filter="url(#bb1)"/>
</g>
<rect x="600" y="402.8" width="82" height="4.2" fill="#111"/>
<text x="602.0" y="396.2" font-size="31" fill="#111" stroke="#111" stroke-width="0.15" textLength="84.7" lengthAdjust="spacingAndGlyphs">40 nm</text>
<path d="M614 206.4H648" stroke="#111" stroke-width="2.2"/><path d="M661 206.4L646.5 199.8V213Z" fill="#111"/>
<text x="502.7" y="30.0" font-size="31" fill="#111" textLength="47.7" lengthAdjust="spacingAndGlyphs"><tspan font-size="37" dy="0.5">(</tspan><tspan dy="-0.5">b</tspan><tspan font-size="37" dy="0.5">)</tspan></text>
<path d="M775.4 233.4 L776.2 232.7 L776.9 231.9 L777.7 231.1 L778.4 230.5 L779.2 230.1 L780.0 230.0 L780.7 230.1 L781.5 230.2 L782.3 230.4 L783.0 230.6 L783.8 230.8 L784.5 231.0 L785.3 231.2 L786.1 231.5 L786.8 231.8 L787.6 232.0 L788.3 232.2 L789.1 232.2 L789.9 232.0 L790.6 231.4 L791.4 230.9 L792.2 230.6 L792.9 230.8 L793.7 231.4 L794.4 232.3 L795.2 233.1 L796.0 233.7 L796.7 234.0 L797.5 234.1 L798.2 234.2 L799.0 234.3 L799.8 234.4 L800.5 234.4 L801.3 234.5 L802.1 234.4 L802.8 234.0 L803.6 233.2 L804.3 232.2 L805.1 231.3 L805.9 230.5 L806.6 230.1 L807.4 230.0 L808.1 230.1 L808.9 230.3 L809.7 230.6 L810.4 230.8 L811.2 231.1 L812.0 231.6 L812.7 232.3 L813.5 233.1 L814.2 234.0 L815.0 234.8 L815.8 235.3 L816.5 235.6 L817.3 235.7 L818.0 235.8 L818.8 235.9 L819.6 236.0 L820.3 236.1 L821.1 236.1 L821.9 236.1 L822.6 236.1 L823.4 236.1 L824.1 236.1 L824.9 236.1 L825.7 236.0 L826.4 235.9 L827.2 235.8 L827.9 235.7 L828.7 235.6 L829.5 235.5 L830.2 235.4 L831.0 235.3 L831.8 235.2 L832.5 235.1 L833.3 235.0 L834.0 235.0 L834.8 234.9 L835.6 234.9 L836.3 234.8 L837.1 234.8 L837.8 234.8 L838.6 234.7 L839.4 234.6 L840.1 234.5 L840.9 234.4 L841.6 234.0 L842.4 233.2 L843.2 232.2 L843.9 230.8 L844.7 227.3 L845.5 221.8 L846.2 215.1 L847.0 208.5 L847.7 201.4 L848.5 193.4 L849.3 184.8 L850.0 176.2 L850.8 167.9 L851.5 160.3 L852.3 152.7 L853.1 145.3 L853.8 138.2 L854.6 131.5 L855.4 125.3 L856.1 119.5 L856.9 114.0 L857.6 108.8 L858.4 104.0 L859.2 99.6 L859.9 95.6 L860.7 91.8 L861.4 88.4 L862.2 85.3 L863.0 82.7 L863.7 80.3 L864.5 78.2 L865.3 76.2 L866.0 74.4 L866.8 72.7 L867.5 71.1 L868.3 69.4 L869.1 67.8 L869.8 66.5 L870.6 65.5 L871.3 65.1 L872.1 64.8 L872.9 64.6 L873.6 64.4 L874.4 64.2 L875.2 64.1 L875.9 64.0 L876.7 64.0 L877.4 64.1 L878.2 64.3 L879.0 64.5 L879.7 64.7 L880.5 65.0 L881.2 65.2 L882.0 65.5 L882.8 65.7 L883.5 65.9 L884.3 66.2 L885.1 66.5 L885.8 66.7 L886.6 67.0 L887.3 67.2 L888.1 67.3 L888.9 67.4 L889.6 67.2 L890.4 66.5 L891.1 65.7 L891.9 64.8 L892.7 64.2 L893.4 64.0 L894.2 64.0 L895.0 64.0 L895.7 64.0 L896.5 64.0 L897.2 64.0 L898.0 64.0 L898.8 64.1 L899.5 64.2 L900.3 64.3 L901.0 64.5 L901.8 64.6 L902.6 64.8 L903.3 65.0 L904.1 65.2 L904.9 65.3 L905.6 65.5 L906.4 65.6 L907.1 65.7 L907.9 65.8 L908.7 65.9 L909.4 66.0 L910.2 66.1 L910.9 66.2 L911.7 66.2 L912.5 66.3 L913.2 66.4 L914.0 66.5 L914.8 66.5 L915.5 66.6 L916.3 66.7 L917.0 66.8 L917.8 66.9 L918.6 67.0 L919.3 67.1 L920.1 67.2 L920.8 67.4 L921.6 67.5 L922.4 67.6 L923.1 67.7 L923.9 67.8 L924.7 67.9 L925.4 67.9 L926.2 67.9 L926.9 67.8 L927.7 67.7 L928.5 67.4 L929.2 67.2 L930.0 66.9 L930.7 66.7 L931.5 66.5 L932.3 66.3 L933.0 66.3 L933.8 66.3 L934.6 66.3 L935.3 66.4 L936.1 66.6 L936.8 66.8 L937.6 66.9 L938.4 67.1 L939.1 67.3 L939.9 67.5 L940.6 67.7 L941.4 67.9 L942.2 68.2 L942.9 68.5 L943.7 68.7 L944.5 68.9 L945.2 69.0 L946.0 69.0 L946.7 69.0 L947.5 68.9 L948.3 68.8 L949.0 68.7 L949.8 68.5 L950.5 68.3 L951.3 68.1 L952.1 67.9 L952.8 67.7 L953.6 67.4 L954.4 67.1 L955.1 66.8 L955.9 66.4 L956.6 66.0 L957.4 65.7" fill="none" stroke="#0a0a0a" stroke-width="2.4" stroke-linejoin="round"/>
<rect x="770.0" y="41.7" width="194.3" height="195.0" fill="none" stroke="#0a0a0a" stroke-width="2.5"/>
<path d="M761.5 236.7H770.0M761.5 181.0H770.0M761.5 125.3H770.0M761.5 69.6H770.0M766.0 208.8H770.0M766.0 153.1H770.0M766.0 97.4H770.0M775.4 236.7V244.7M828.0 236.7V244.7M880.6 236.7V244.7M933.2 236.7V244.7M801.7 236.7V240.7M854.3 236.7V240.7M906.9 236.7V240.7M959.5 236.7V240.7" stroke="#0a0a0a" stroke-width="2.2" fill="none"/>
<text x="745.0" y="243.9" font-size="27.5" fill="#111" stroke="#111" stroke-width="0.15" textLength="12.0" lengthAdjust="spacingAndGlyphs">0</text>
<text x="745.0" y="188.2" font-size="27.5" fill="#111" stroke="#111" stroke-width="0.15" textLength="12.0" lengthAdjust="spacingAndGlyphs">1</text>
<text x="745.0" y="132.5" font-size="27.5" fill="#111" stroke="#111" stroke-width="0.15" textLength="12.0" lengthAdjust="spacingAndGlyphs">2</text>
<text x="745.0" y="76.8" font-size="27.5" fill="#111" stroke="#111" stroke-width="0.15" textLength="12.0" lengthAdjust="spacingAndGlyphs">3</text>
<text x="769.9" y="268.4" font-size="27" fill="#111" stroke="#111" stroke-width="0.15" textLength="12.3" lengthAdjust="spacingAndGlyphs">0</text>
<text x="823.0" y="268.4" font-size="27" fill="#111" stroke="#111" stroke-width="0.15" textLength="11.8" lengthAdjust="spacingAndGlyphs">5</text>
<text x="871.3" y="268.4" font-size="27" fill="#111" stroke="#111" stroke-width="0.15" textLength="22.7" lengthAdjust="spacingAndGlyphs">10</text>
<text x="924.0" y="268.4" font-size="27" fill="#111" stroke="#111" stroke-width="0.15" textLength="22.3" lengthAdjust="spacingAndGlyphs">15</text>
<text x="831" y="293.8" font-size="27.5" fill="#111" textLength="87.5" lengthAdjust="spacingAndGlyphs"><tspan font-style="italic">X</tspan> (nm)</text>
<text transform="translate(721.0,174.5) rotate(-90)" font-size="27.5" fill="#111" stroke="#111" stroke-width="0.15" textLength="66.0" lengthAdjust="spacingAndGlyphs"><tspan font-style="italic">Z</tspan> (Å)</text>
<path d="M1122.8 373.8h6.4v6.4h-6.4zM1124.1 369.8h6.4v6.4h-6.4zM1125.5 363.1h6.4v6.4h-6.4zM1126.8 369.7h6.4v6.4h-6.4zM1128.1 351.0h6.4v6.4h-6.4zM1129.4 370.3h6.4v6.4h-6.4zM1130.8 364.1h6.4v6.4h-6.4zM1132.1 356.7h6.4v6.4h-6.4zM1133.4 347.6h6.4v6.4h-6.4zM1134.8 344.3h6.4v6.4h-6.4zM1136.1 353.0h6.4v6.4h-6.4zM1137.4 344.1h6.4v6.4h-6.4zM1138.8 346.3h6.4v6.4h-6.4zM1140.1 354.7h6.4v6.4h-6.4zM1141.4 353.5h6.4v6.4h-6.4zM1142.7 344.5h6.4v6.4h-6.4zM1144.1 346.5h6.4v6.4h-6.4zM1145.4 348.6h6.4v6.4h-6.4zM1146.7 337.0h6.4v6.4h-6.4zM1148.1 350.7h6.4v6.4h-6.4zM1149.4 333.4h6.4v6.4h-6.4zM1150.7 342.1h6.4v6.4h-6.4zM1152.1 351.0h6.4v6.4h-6.4zM1153.4 328.5h6.4v6.4h-6.4zM1154.7 346.9h6.4v6.4h-6.4zM1156.0 346.9h6.4v6.4h-6.4zM1157.4 325.3h6.4v6.4h-6.4zM1158.7 339.1h6.4v6.4h-6.4zM1160.0 322.2h6.4v6.4h-6.4zM1161.4 339.7h6.4v6.4h-6.4zM1162.7 319.3h6.4v6.4h-6.4zM1164.0 324.1h6.4v6.4h-6.4zM1165.4 325.2h6.4v6.4h-6.4zM1166.7 315.1h6.4v6.4h-6.4zM1168.0 311.8h6.4v6.4h-6.4zM1169.3 309.4h6.4v6.4h-6.4zM1170.7 309.3h6.4v6.4h-6.4zM1172.0 323.6h6.4v6.4h-6.4zM1173.3 306.6h6.4v6.4h-6.4zM1174.7 302.1h6.4v6.4h-6.4zM1176.0 313.7h6.4v6.4h-6.4zM1177.3 294.5h6.4v6.4h-6.4zM1178.7 294.1h6.4v6.4h-6.4zM1180.0 303.3h6.4v6.4h-6.4zM1181.3 282.2h6.4v6.4h-6.4zM1182.6 301.4h6.4v6.4h-6.4zM1184.0 285.3h6.4v6.4h-6.4zM1185.3 282.1h6.4v6.4h-6.4zM1186.6 287.1h6.4v6.4h-6.4zM1188.0 268.8h6.4v6.4h-6.4zM1189.3 281.8h6.4v6.4h-6.4zM1190.6 267.7h6.4v6.4h-6.4zM1192.0 285.2h6.4v6.4h-6.4zM1193.3 287.6h6.4v6.4h-6.4zM1194.6 282.9h6.4v6.4h-6.4zM1195.9 282.8h6.4v6.4h-6.4zM1197.3 292.0h6.4v6.4h-6.4zM1198.6 297.7h6.4v6.4h-6.4zM1199.9 288.7h6.4v6.4h-6.4zM1201.3 291.2h6.4v6.4h-6.4zM1202.6 300.2h6.4v6.4h-6.4zM1203.9 288.7h6.4v6.4h-6.4zM1205.3 308.6h6.4v6.4h-6.4zM1206.6 291.6h6.4v6.4h-6.4zM1207.9 305.7h6.4v6.4h-6.4zM1209.2 306.7h6.4v6.4h-6.4zM1210.6 304.2h6.4v6.4h-6.4zM1211.9 319.9h6.4v6.4h-6.4zM1213.2 315.5h6.4v6.4h-6.4zM1214.6 296.0h6.4v6.4h-6.4zM1215.9 310.8h6.4v6.4h-6.4zM1217.2 304.2h6.4v6.4h-6.4zM1218.6 313.1h6.4v6.4h-6.4zM1219.9 335.6h6.4v6.4h-6.4zM1221.2 322.1h6.4v6.4h-6.4zM1222.5 316.6h6.4v6.4h-6.4zM1223.9 319.8h6.4v6.4h-6.4zM1225.2 313.1h6.4v6.4h-6.4zM1226.5 315.3h6.4v6.4h-6.4zM1227.9 311.7h6.4v6.4h-6.4zM1229.2 304.9h6.4v6.4h-6.4zM1230.5 298.6h6.4v6.4h-6.4zM1231.9 289.6h6.4v6.4h-6.4zM1233.2 305.7h6.4v6.4h-6.4zM1234.5 293.2h6.4v6.4h-6.4zM1235.8 296.0h6.4v6.4h-6.4zM1237.2 292.7h6.4v6.4h-6.4zM1238.5 274.2h6.4v6.4h-6.4zM1239.8 294.0h6.4v6.4h-6.4zM1241.2 292.2h6.4v6.4h-6.4zM1242.5 292.3h6.4v6.4h-6.4zM1243.8 294.1h6.4v6.4h-6.4zM1245.2 296.2h6.4v6.4h-6.4zM1246.5 278.8h6.4v6.4h-6.4zM1247.8 276.4h6.4v6.4h-6.4zM1249.1 285.9h6.4v6.4h-6.4zM1250.5 269.9h6.4v6.4h-6.4zM1251.8 267.9h6.4v6.4h-6.4zM1253.1 265.8h6.4v6.4h-6.4zM1254.5 267.8h6.4v6.4h-6.4zM1255.8 271.6h6.4v6.4h-6.4zM1257.1 262.7h6.4v6.4h-6.4zM1258.5 281.8h6.4v6.4h-6.4zM1259.8 271.5h6.4v6.4h-6.4zM1261.1 279.9h6.4v6.4h-6.4zM1262.4 285.7h6.4v6.4h-6.4zM1263.8 276.1h6.4v6.4h-6.4zM1265.1 276.7h6.4v6.4h-6.4zM1266.4 286.5h6.4v6.4h-6.4zM1267.8 279.8h6.4v6.4h-6.4zM1269.1 284.1h6.4v6.4h-6.4zM1270.4 279.7h6.4v6.4h-6.4zM1271.8 286.2h6.4v6.4h-6.4zM1273.1 284.4h6.4v6.4h-6.4zM1274.4 276.5h6.4v6.4h-6.4zM1275.7 275.9h6.4v6.4h-6.4zM1277.1 279.0h6.4v6.4h-6.4zM1278.4 258.4h6.4v6.4h-6.4zM1279.7 262.7h6.4v6.4h-6.4zM1281.1 245.6h6.4v6.4h-6.4zM1282.4 256.8h6.4v6.4h-6.4zM1283.7 255.1h6.4v6.4h-6.4zM1285.1 250.3h6.4v6.4h-6.4zM1286.4 240.9h6.4v6.4h-6.4zM1287.7 220.7h6.4v6.4h-6.4zM1289.0 228.8h6.4v6.4h-6.4zM1290.4 212.2h6.4v6.4h-6.4zM1291.7 223.6h6.4v6.4h-6.4zM1293.0 202.5h6.4v6.4h-6.4zM1294.4 197.0h6.4v6.4h-6.4zM1295.7 188.3h6.4v6.4h-6.4zM1297.0 172.1h6.4v6.4h-6.4zM1298.4 182.5h6.4v6.4h-6.4zM1299.7 166.6h6.4v6.4h-6.4zM1301.0 156.0h6.4v6.4h-6.4zM1302.3 162.4h6.4v6.4h-6.4zM1303.7 140.5h6.4v6.4h-6.4zM1305.0 146.6h6.4v6.4h-6.4zM1306.3 133.4h6.4v6.4h-6.4zM1307.7 130.0h6.4v6.4h-6.4zM1309.0 143.9h6.4v6.4h-6.4zM1310.3 140.5h6.4v6.4h-6.4zM1311.7 153.3h6.4v6.4h-6.4zM1313.0 153.5h6.4v6.4h-6.4zM1314.3 164.6h6.4v6.4h-6.4zM1315.6 168.1h6.4v6.4h-6.4zM1317.0 170.9h6.4v6.4h-6.4zM1318.3 188.0h6.4v6.4h-6.4zM1319.6 181.7h6.4v6.4h-6.4zM1321.0 206.1h6.4v6.4h-6.4zM1322.3 208.7h6.4v6.4h-6.4zM1323.6 220.5h6.4v6.4h-6.4zM1325.0 215.1h6.4v6.4h-6.4zM1326.3 227.1h6.4v6.4h-6.4zM1327.6 232.4h6.4v6.4h-6.4zM1328.9 236.1h6.4v6.4h-6.4zM1330.3 254.3h6.4v6.4h-6.4zM1331.6 246.9h6.4v6.4h-6.4zM1332.9 254.9h6.4v6.4h-6.4zM1334.3 270.0h6.4v6.4h-6.4zM1335.6 270.4h6.4v6.4h-6.4zM1336.9 257.6h6.4v6.4h-6.4zM1338.3 256.0h6.4v6.4h-6.4zM1339.6 271.9h6.4v6.4h-6.4zM1340.9 264.7h6.4v6.4h-6.4zM1342.2 258.3h6.4v6.4h-6.4zM1343.6 273.9h6.4v6.4h-6.4zM1344.9 263.5h6.4v6.4h-6.4zM1346.2 253.3h6.4v6.4h-6.4zM1347.6 268.5h6.4v6.4h-6.4zM1348.9 262.9h6.4v6.4h-6.4zM1350.2 268.4h6.4v6.4h-6.4zM1351.6 266.3h6.4v6.4h-6.4zM1352.9 268.9h6.4v6.4h-6.4zM1354.2 264.9h6.4v6.4h-6.4zM1355.5 264.7h6.4v6.4h-6.4zM1356.9 254.3h6.4v6.4h-6.4zM1358.2 260.5h6.4v6.4h-6.4zM1359.5 251.0h6.4v6.4h-6.4zM1360.9 241.8h6.4v6.4h-6.4zM1362.2 240.1h6.4v6.4h-6.4zM1363.5 246.3h6.4v6.4h-6.4zM1364.9 245.8h6.4v6.4h-6.4zM1366.2 233.3h6.4v6.4h-6.4zM1367.5 250.4h6.4v6.4h-6.4zM1368.8 241.9h6.4v6.4h-6.4zM1370.2 233.5h6.4v6.4h-6.4zM1371.5 227.9h6.4v6.4h-6.4zM1372.8 236.4h6.4v6.4h-6.4zM1374.2 241.7h6.4v6.4h-6.4zM1375.5 223.4h6.4v6.4h-6.4zM1376.8 235.8h6.4v6.4h-6.4zM1378.2 220.1h6.4v6.4h-6.4zM1379.5 216.2h6.4v6.4h-6.4zM1380.8 233.6h6.4v6.4h-6.4zM1382.1 213.8h6.4v6.4h-6.4zM1383.5 211.1h6.4v6.4h-6.4zM1384.8 216.7h6.4v6.4h-6.4zM1386.1 216.2h6.4v6.4h-6.4zM1387.5 226.7h6.4v6.4h-6.4zM1124.1 339.8h6.4v6.4h-6.4zM1125.8 368.8h6.4v6.4h-6.4zM1127.3 372.8h6.4v6.4h-6.4z" fill="#0a0a0a"/>
<path d="M1143.0 357.6 L1144.3 357.4 L1145.6 357.2 L1147.0 356.9 L1148.3 356.7 L1149.6 356.5 L1150.9 356.3 L1152.2 356.1 L1153.5 355.8 L1154.9 355.6 L1156.2 355.4 L1157.5 355.1 L1158.8 354.8 L1160.1 354.6 L1161.4 354.3 L1162.8 354.0 L1164.1 353.7 L1165.4 353.4 L1166.7 353.1 L1168.0 352.8 L1169.3 352.4 L1170.7 352.0 L1172.0 351.6 L1173.3 351.1 L1174.6 350.6 L1175.9 349.9 L1177.2 349.3 L1178.6 348.5 L1179.9 347.7 L1181.2 346.9 L1182.5 346.1 L1183.8 345.2 L1185.1 344.3 L1186.5 343.4 L1187.8 342.4 L1189.1 341.4 L1190.4 340.3 L1191.7 339.1 L1193.0 337.8 L1194.4 336.6 L1195.7 335.3 L1197.0 334.0 L1198.3 332.8 L1199.6 331.5 L1200.9 330.4 L1202.3 329.3 L1203.6 328.4 L1204.9 327.5 L1206.2 326.5 L1207.5 325.7 L1208.8 324.8 L1210.2 324.0 L1211.5 323.3 L1212.8 322.6 L1214.1 321.9 L1215.4 321.4 L1216.8 320.9 L1218.1 320.4 L1219.4 319.9 L1220.7 319.5 L1222.0 319.0 L1223.3 318.5 L1224.7 318.0 L1226.0 317.5 L1227.3 316.9 L1228.6 316.3 L1229.9 315.7 L1231.2 315.1 L1232.6 314.5 L1233.9 313.9 L1235.2 313.3 L1236.5 312.6 L1237.8 312.0 L1239.1 311.4 L1240.5 310.8 L1241.8 310.2 L1243.1 309.6 L1244.4 309.0 L1245.7 308.3 L1247.0 307.7 L1248.4 307.1 L1249.7 306.5 L1251.0 305.9 L1252.3 305.3 L1253.6 304.6 L1254.9 304.0 L1256.3 303.4 L1257.6 302.8 L1258.9 302.2 L1260.2 301.5 L1261.5 300.9 L1262.8 300.3 L1264.2 299.7 L1265.5 299.1 L1266.8 298.5 L1268.1 298.0 L1269.4 297.4 L1270.7 296.8 L1272.1 296.3 L1273.4 295.7 L1274.7 295.2 L1276.0 294.7 L1277.3 294.2 L1278.6 293.7 L1280.0 293.3 L1281.3 292.9 L1282.6 292.6 L1283.9 292.2 L1285.2 291.9 L1286.6 291.6 L1287.9 291.2 L1289.2 290.9 L1290.5 290.6 L1291.8 290.3 L1293.1 290.0 L1294.5 289.7 L1295.8 289.4 L1297.1 289.1 L1298.4 288.8 L1299.7 288.5 L1301.0 288.1 L1302.4 287.7 L1303.7 287.3 L1305.0 286.9 L1306.3 286.5 L1307.6 286.0 L1308.9 285.5 L1310.3 285.0 L1311.6 284.5 L1312.9 284.0 L1314.2 283.4 L1315.5 282.9 L1316.8 282.3 L1318.2 281.8 L1319.5 281.2 L1320.8 280.7 L1322.1 280.1 L1323.4 279.5 L1324.7 278.9 L1326.1 278.3 L1327.4 277.7 L1328.7 277.1 L1330.0 276.4 L1331.3 275.8 L1332.6 275.1 L1334.0 274.5 L1335.3 273.8 L1336.6 273.2 L1337.9 272.6 L1339.2 271.9 L1340.5 271.2 L1341.9 270.6 L1343.2 269.9 L1344.5 269.2 L1345.8 268.6 L1347.1 267.9 L1348.4 267.2 L1349.8 266.5 L1351.1 265.9 L1352.4 265.2" fill="none" stroke="#34349a" stroke-width="3.0"/>
<path d="M1143.0 357.5 L1144.3 356.9 L1145.6 356.2 L1147.0 355.3 L1148.3 354.2 L1149.6 353.2 L1150.9 352.5 L1152.2 351.6 L1153.5 350.7 L1154.9 349.6 L1156.2 348.5 L1157.5 347.2 L1158.8 345.8 L1160.1 344.4 L1161.4 342.8 L1162.8 341.1 L1164.1 339.3 L1165.4 337.4 L1166.7 335.4 L1168.0 333.2 L1169.3 331.0 L1170.7 328.6 L1172.0 326.2 L1173.3 323.6 L1174.6 321.0 L1175.9 318.3 L1177.2 315.6 L1178.6 312.8 L1179.9 310.0 L1181.2 307.3 L1182.5 304.7 L1183.8 302.2 L1185.1 299.8 L1186.5 297.5 L1187.8 295.4 L1189.1 293.5 L1190.4 291.6 L1191.7 289.9 L1193.0 288.4 L1194.4 287.1 L1195.7 286.3 L1197.0 286.0 L1198.3 286.2 L1199.6 286.9 L1200.9 288.0 L1202.3 289.6 L1203.6 291.5 L1204.9 293.5 L1206.2 295.6 L1207.5 297.8 L1208.8 299.8 L1210.2 301.8 L1211.5 303.6 L1212.8 305.2 L1214.1 306.6 L1215.4 307.8 L1216.8 308.8 L1218.1 309.7 L1219.4 310.3 L1220.7 310.9 L1222.0 311.2 L1223.3 311.4 L1224.7 311.5 L1226.0 311.4 L1227.3 311.2 L1228.6 310.9 L1229.9 310.6 L1231.2 310.1 L1232.6 309.6 L1233.9 309.1 L1235.2 308.6 L1236.5 308.0 L1237.8 307.4 L1239.1 306.8 L1240.5 306.3 L1241.8 305.7 L1243.1 305.1 L1244.4 304.4 L1245.7 303.8 L1247.0 303.2 L1248.4 302.6 L1249.7 302.0 L1251.0 301.4 L1252.3 300.8 L1253.6 300.2 L1254.9 299.6 L1256.3 299.0 L1257.6 298.4 L1258.9 297.8 L1260.2 297.2 L1261.5 296.6 L1262.8 296.0 L1264.2 295.4 L1265.5 294.7 L1266.8 294.0 L1268.1 293.1 L1269.4 292.1 L1270.7 291.0 L1272.1 289.5 L1273.4 287.9 L1274.7 285.9 L1276.0 283.7 L1277.3 281.1 L1278.6 278.2 L1280.0 275.0 L1281.3 271.5 L1282.6 267.7 L1283.9 263.4 L1285.2 258.8 L1286.6 253.7 L1287.9 248.3 L1289.2 242.4 L1290.5 236.1 L1291.8 229.4 L1293.1 222.5 L1294.5 215.3 L1295.8 208.0 L1297.1 200.6 L1298.4 193.4 L1299.7 186.3 L1301.0 179.6 L1302.4 173.4 L1303.7 167.9 L1305.0 163.1 L1306.3 159.2 L1307.6 156.4 L1308.9 154.6 L1310.3 154.0 L1311.6 154.5 L1312.9 156.1 L1314.2 158.7 L1315.5 162.4 L1316.8 166.9 L1318.2 172.2 L1319.5 178.0 L1320.8 184.4 L1322.1 191.1 L1323.4 197.9 L1324.7 204.8 L1326.1 211.6 L1327.4 218.1 L1328.7 224.4 L1330.0 230.2 L1331.3 235.6 L1332.6 240.5 L1334.0 244.9 L1335.3 248.8 L1336.6 252.2 L1337.9 255.1 L1339.2 257.5 L1340.5 259.5 L1341.9 261.1 L1343.2 262.3 L1344.5 263.2 L1345.8 263.8 L1347.1 264.1 L1348.4 264.9 L1349.8 265.4 L1351.1 265.4 L1352.4 265.2" fill="none" stroke="#dc1a20" stroke-width="3.1" stroke-linejoin="round"/>
<rect x="1108.5" y="43.9" width="287.3" height="348.6" fill="none" stroke="#0a0a0a" stroke-width="2.5"/>
<path d="M1099.2 68.8H1108.5M1099.2 168.1H1108.5M1099.2 267.5H1108.5M1099.2 366.9H1108.5M1103.3 118.4H1108.5M1103.3 217.8H1108.5M1103.3 317.2H1108.5M1128.0 392.5V400.5M1227.6 392.5V400.5M1327.2 392.5V400.5M1177.8 392.5V397.0M1277.4 392.5V397.0M1377.0 392.5V397.0" stroke="#0a0a0a" stroke-width="2.4" fill="none"/>
<text x="1038.9" y="75.8" font-size="25" fill="#111" stroke="#111" stroke-width="0.15" textLength="54.8" lengthAdjust="spacingAndGlyphs">6000</text>
<text x="1038.9" y="175.1" font-size="25" fill="#111" stroke="#111" stroke-width="0.15" textLength="54.8" lengthAdjust="spacingAndGlyphs">5800</text>
<text x="1038.9" y="274.5" font-size="25" fill="#111" stroke="#111" stroke-width="0.15" textLength="54.8" lengthAdjust="spacingAndGlyphs">5600</text>
<text x="1038.9" y="373.9" font-size="25" fill="#111" stroke="#111" stroke-width="0.15" textLength="54.8" lengthAdjust="spacingAndGlyphs">5400</text>
<text x="1110.8" y="422.8" font-size="25" fill="#111" stroke="#111" stroke-width="0.15" textLength="40.7" lengthAdjust="spacingAndGlyphs">660</text>
<text x="1210.8" y="422.8" font-size="25" fill="#111" stroke="#111" stroke-width="0.15" textLength="40.3" lengthAdjust="spacingAndGlyphs">650</text>
<text x="1310.6" y="422.8" font-size="25" fill="#111" stroke="#111" stroke-width="0.15" textLength="40.1" lengthAdjust="spacingAndGlyphs">640</text>
<text x="1104.3" y="458.8" font-size="30" fill="#111" stroke="#111" stroke-width="0.15" textLength="296.7" lengthAdjust="spacingAndGlyphs">Binding energy (eV)</text>
<text transform="translate(1012.2,267.5) rotate(-90)" font-size="32.5" fill="#111" stroke="#111" stroke-width="0.15" textLength="101.3" lengthAdjust="spacingAndGlyphs">Counts</text>
<rect x="1143.5" y="62.2" width="6.7" height="6.7" fill="#0a0a0a"/>
<path d="M1125.1 89.5H1168.4" stroke="#34349a" stroke-width="3.1"/>
<path d="M1123.8 113H1169.9" stroke="#dc1a20" stroke-width="3.2"/>
<text x="1173.9" y="72.0" font-size="22" fill="#111" stroke="#111" stroke-width="0.15" textLength="50.8" lengthAdjust="spacingAndGlyphs">Data</text>
<text x="1173.9" y="95.5" font-size="22" fill="#111" stroke="#111" stroke-width="0.15" textLength="125.1" lengthAdjust="spacingAndGlyphs">Background</text>
<text x="1173.9" y="119.2" font-size="22" fill="#111" stroke="#111" stroke-width="0.15" textLength="29.7" lengthAdjust="spacingAndGlyphs">Fit</text>
<text x="1311" y="76.8" font-size="25" fill="#111" textLength="78" lengthAdjust="spacingAndGlyphs">Mn 2<tspan font-style="italic">p</tspan></text>
<text x="1017.2" y="30.5" font-size="31" fill="#111" textLength="43.2" lengthAdjust="spacingAndGlyphs"><tspan font-size="37" dy="0.5">(</tspan><tspan dy="-0.5">c</tspan><tspan font-size="37" dy="0.5">)</tspan></text>
<path d="M1546.7 353.0h6.6v6.6h-6.6zM1548.4 348.1h6.6v6.6h-6.6zM1550.1 350.5h6.6v6.6h-6.6zM1551.8 346.7h6.6v6.6h-6.6zM1553.5 346.2h6.6v6.6h-6.6zM1555.2 354.4h6.6v6.6h-6.6zM1556.9 355.0h6.6v6.6h-6.6zM1558.6 342.3h6.6v6.6h-6.6zM1560.3 350.8h6.6v6.6h-6.6zM1562.0 350.9h6.6v6.6h-6.6zM1563.7 339.2h6.6v6.6h-6.6zM1565.4 346.9h6.6v6.6h-6.6zM1567.1 341.1h6.6v6.6h-6.6zM1568.8 346.3h6.6v6.6h-6.6zM1570.5 343.6h6.6v6.6h-6.6zM1572.2 350.7h6.6v6.6h-6.6zM1573.9 343.2h6.6v6.6h-6.6zM1575.6 339.4h6.6v6.6h-6.6zM1577.3 344.4h6.6v6.6h-6.6zM1579.0 340.9h6.6v6.6h-6.6zM1580.7 341.7h6.6v6.6h-6.6zM1582.4 350.6h6.6v6.6h-6.6zM1584.1 338.3h6.6v6.6h-6.6zM1585.8 340.1h6.6v6.6h-6.6zM1587.5 343.1h6.6v6.6h-6.6zM1589.2 346.0h6.6v6.6h-6.6zM1590.9 337.2h6.6v6.6h-6.6zM1592.6 341.4h6.6v6.6h-6.6zM1594.3 338.8h6.6v6.6h-6.6zM1596.0 337.1h6.6v6.6h-6.6zM1597.7 338.8h6.6v6.6h-6.6zM1599.4 336.5h6.6v6.6h-6.6zM1601.1 341.7h6.6v6.6h-6.6zM1602.8 337.0h6.6v6.6h-6.6zM1604.5 339.9h6.6v6.6h-6.6zM1606.2 333.3h6.6v6.6h-6.6zM1607.9 331.4h6.6v6.6h-6.6zM1609.6 335.9h6.6v6.6h-6.6zM1611.3 329.9h6.6v6.6h-6.6zM1613.0 321.3h6.6v6.6h-6.6zM1614.7 303.2h6.6v6.6h-6.6zM1616.4 295.8h6.6v6.6h-6.6zM1618.1 278.5h6.6v6.6h-6.6zM1619.8 264.8h6.6v6.6h-6.6zM1621.5 245.0h6.6v6.6h-6.6zM1623.2 229.5h6.6v6.6h-6.6zM1624.9 215.5h6.6v6.6h-6.6zM1626.6 202.9h6.6v6.6h-6.6zM1628.3 197.9h6.6v6.6h-6.6zM1630.0 195.7h6.6v6.6h-6.6zM1631.7 205.0h6.6v6.6h-6.6zM1633.4 214.3h6.6v6.6h-6.6zM1635.1 230.5h6.6v6.6h-6.6zM1636.8 246.6h6.6v6.6h-6.6zM1638.5 267.8h6.6v6.6h-6.6zM1640.2 290.0h6.6v6.6h-6.6zM1641.9 297.5h6.6v6.6h-6.6zM1643.6 308.8h6.6v6.6h-6.6zM1645.3 319.1h6.6v6.6h-6.6zM1647.0 329.8h6.6v6.6h-6.6zM1648.7 333.5h6.6v6.6h-6.6zM1650.4 342.3h6.6v6.6h-6.6zM1652.1 338.3h6.6v6.6h-6.6zM1653.8 342.7h6.6v6.6h-6.6zM1655.5 347.1h6.6v6.6h-6.6zM1657.2 350.5h6.6v6.6h-6.6zM1658.9 343.3h6.6v6.6h-6.6zM1660.6 342.9h6.6v6.6h-6.6zM1662.3 353.3h6.6v6.6h-6.6zM1664.0 346.7h6.6v6.6h-6.6zM1665.7 351.4h6.6v6.6h-6.6zM1667.4 354.4h6.6v6.6h-6.6zM1669.1 352.9h6.6v6.6h-6.6zM1670.8 347.4h6.6v6.6h-6.6zM1672.5 345.3h6.6v6.6h-6.6zM1674.2 352.3h6.6v6.6h-6.6zM1675.9 344.2h6.6v6.6h-6.6zM1677.6 347.5h6.6v6.6h-6.6zM1679.3 337.5h6.6v6.6h-6.6zM1681.0 338.7h6.6v6.6h-6.6zM1682.7 330.4h6.6v6.6h-6.6zM1684.4 327.7h6.6v6.6h-6.6zM1686.1 332.0h6.6v6.6h-6.6zM1687.8 327.4h6.6v6.6h-6.6zM1689.5 335.9h6.6v6.6h-6.6zM1691.2 340.2h6.6v6.6h-6.6zM1692.9 336.5h6.6v6.6h-6.6zM1694.6 343.9h6.6v6.6h-6.6zM1696.3 342.8h6.6v6.6h-6.6zM1698.0 340.0h6.6v6.6h-6.6zM1699.7 335.9h6.6v6.6h-6.6zM1701.4 336.9h6.6v6.6h-6.6zM1703.1 332.0h6.6v6.6h-6.6zM1704.8 314.5h6.6v6.6h-6.6zM1706.5 308.2h6.6v6.6h-6.6zM1708.2 285.8h6.6v6.6h-6.6zM1709.9 267.3h6.6v6.6h-6.6zM1711.6 250.6h6.6v6.6h-6.6zM1713.3 225.5h6.6v6.6h-6.6zM1715.0 200.2h6.6v6.6h-6.6zM1716.7 175.5h6.6v6.6h-6.6zM1718.4 156.0h6.6v6.6h-6.6zM1720.1 141.9h6.6v6.6h-6.6zM1721.8 134.5h6.6v6.6h-6.6zM1723.5 133.3h6.6v6.6h-6.6zM1725.2 148.5h6.6v6.6h-6.6zM1726.9 166.8h6.6v6.6h-6.6zM1728.6 185.9h6.6v6.6h-6.6zM1730.3 215.5h6.6v6.6h-6.6zM1732.0 239.9h6.6v6.6h-6.6zM1733.7 256.7h6.6v6.6h-6.6zM1735.4 282.8h6.6v6.6h-6.6zM1737.1 300.5h6.6v6.6h-6.6zM1738.8 320.5h6.6v6.6h-6.6zM1740.5 327.3h6.6v6.6h-6.6zM1742.2 333.5h6.6v6.6h-6.6zM1743.9 344.9h6.6v6.6h-6.6zM1745.6 342.3h6.6v6.6h-6.6zM1747.3 344.5h6.6v6.6h-6.6zM1749.0 351.9h6.6v6.6h-6.6zM1750.7 346.8h6.6v6.6h-6.6zM1752.4 348.9h6.6v6.6h-6.6zM1754.1 347.0h6.6v6.6h-6.6zM1755.8 350.5h6.6v6.6h-6.6zM1757.5 346.9h6.6v6.6h-6.6zM1759.2 346.6h6.6v6.6h-6.6zM1760.9 354.2h6.6v6.6h-6.6zM1762.6 353.8h6.6v6.6h-6.6zM1764.3 347.4h6.6v6.6h-6.6zM1766.0 344.4h6.6v6.6h-6.6zM1767.7 351.9h6.6v6.6h-6.6zM1769.4 349.7h6.6v6.6h-6.6zM1771.1 348.3h6.6v6.6h-6.6zM1772.8 351.2h6.6v6.6h-6.6zM1774.5 350.7h6.6v6.6h-6.6zM1776.2 351.3h6.6v6.6h-6.6zM1777.9 350.7h6.6v6.6h-6.6zM1779.6 348.4h6.6v6.6h-6.6zM1781.3 351.5h6.6v6.6h-6.6zM1783.0 350.7h6.6v6.6h-6.6zM1784.7 346.6h6.6v6.6h-6.6zM1786.4 354.4h6.6v6.6h-6.6zM1788.1 348.7h6.6v6.6h-6.6zM1789.8 347.0h6.6v6.6h-6.6zM1791.5 351.5h6.6v6.6h-6.6zM1793.2 352.4h6.6v6.6h-6.6z" fill="#0a0a0a"/>
<path d="M1587.0 344.3 L1587.8 344.3 L1588.6 344.3 L1589.4 344.3 L1590.2 344.3 L1591.1 344.3 L1591.9 344.3 L1592.7 344.4 L1593.5 344.4 L1594.3 344.4 L1595.1 344.4 L1595.9 344.4 L1596.7 344.4 L1597.5 344.4 L1598.4 344.4 L1599.2 344.4 L1600.0 344.4 L1600.8 344.4 L1601.6 344.4 L1602.4 344.5 L1603.2 344.5 L1604.0 344.5 L1604.8 344.5 L1605.6 344.5 L1606.5 344.5 L1607.3 344.5 L1608.1 344.5 L1608.9 344.5 L1609.7 344.5 L1610.5 344.6 L1611.3 344.6 L1612.1 344.6 L1612.9 344.6 L1613.8 344.6 L1614.6 344.7 L1615.4 344.7 L1616.2 344.7 L1617.0 344.7 L1617.8 344.8 L1618.6 344.8 L1619.4 344.8 L1620.2 344.9 L1621.1 344.9 L1621.9 345.0 L1622.7 345.0 L1623.5 345.1 L1624.3 345.1 L1625.1 345.2 L1625.9 345.2 L1626.7 345.3 L1627.5 345.4 L1628.4 345.5 L1629.2 345.5 L1630.0 345.6 L1630.8 345.7 L1631.6 345.8 L1632.4 345.9 L1633.2 346.0 L1634.0 346.1 L1634.8 346.1 L1635.6 346.2 L1636.5 346.3 L1637.3 346.4 L1638.1 346.4 L1638.9 346.5 L1639.7 346.6 L1640.5 346.6 L1641.3 346.7 L1642.1 346.7 L1642.9 346.8 L1643.8 346.8 L1644.6 346.9 L1645.4 346.9 L1646.2 346.9 L1647.0 347.0 L1647.8 347.0 L1648.6 347.0 L1649.4 347.0 L1650.2 347.0 L1651.1 347.1 L1651.9 347.1 L1652.7 347.1 L1653.5 347.1 L1654.3 347.1 L1655.1 347.1 L1655.9 347.2 L1656.7 347.2 L1657.5 347.2 L1658.4 347.2 L1659.2 347.2 L1660.0 347.2 L1660.8 347.2 L1661.6 347.2 L1662.4 347.2 L1663.2 347.3 L1664.0 347.3 L1664.8 347.3 L1665.6 347.3 L1666.5 347.3 L1667.3 347.3 L1668.1 347.3 L1668.9 347.3 L1669.7 347.3 L1670.5 347.3 L1671.3 347.3 L1672.1 347.3 L1672.9 347.3 L1673.8 347.4 L1674.6 347.4 L1675.4 347.4 L1676.2 347.4 L1677.0 347.4 L1677.8 347.4 L1678.6 347.4 L1679.4 347.4 L1680.2 347.4 L1681.1 347.4 L1681.9 347.4 L1682.7 347.4 L1683.5 347.5 L1684.3 347.5 L1685.1 347.5 L1685.9 347.5 L1686.7 347.5 L1687.5 347.5 L1688.4 347.5 L1689.2 347.5 L1690.0 347.5 L1690.8 347.5 L1691.6 347.6 L1692.4 347.6 L1693.2 347.6 L1694.0 347.6 L1694.8 347.6 L1695.6 347.6 L1696.5 347.6 L1697.3 347.7 L1698.1 347.7 L1698.9 347.7 L1699.7 347.7 L1700.5 347.7 L1701.3 347.8 L1702.1 347.8 L1702.9 347.8 L1703.8 347.9 L1704.6 347.9 L1705.4 347.9 L1706.2 348.0 L1707.0 348.0 L1707.8 348.0 L1708.6 348.1 L1709.4 348.1 L1710.2 348.2 L1711.1 348.2 L1711.9 348.3 L1712.7 348.4 L1713.5 348.4 L1714.3 348.5 L1715.1 348.6 L1715.9 348.7 L1716.7 348.8 L1717.5 348.9 L1718.4 348.9 L1719.2 349.0 L1720.0 349.1 L1720.8 349.3 L1721.6 349.4 L1722.4 349.5 L1723.2 349.6 L1724.0 349.7 L1724.8 349.8 L1725.6 349.9 L1726.5 350.1 L1727.3 350.2 L1728.1 350.3 L1728.9 350.4 L1729.7 350.5 L1730.5 350.6 L1731.3 350.7 L1732.1 350.8 L1732.9 350.9 L1733.8 351.0 L1734.6 351.1 L1735.4 351.2 L1736.2 351.3 L1737.0 351.4 L1737.8 351.5 L1738.6 351.5 L1739.4 351.6 L1740.2 351.7 L1741.1 351.7 L1741.9 351.8 L1742.7 351.8 L1743.5 351.9 L1744.3 351.9 L1745.1 352.0 L1745.9 352.0 L1746.7 352.1 L1747.5 352.1 L1748.4 352.1 L1749.2 352.2 L1750.0 352.2 L1750.8 352.2 L1751.6 352.2 L1752.4 352.3 L1753.2 352.3 L1754.0 352.3 L1754.8 352.3 L1755.6 352.3 L1756.5 352.4 L1757.3 352.4 L1758.1 352.4 L1758.9 352.4 L1759.7 352.4 L1760.5 352.4 L1761.3 352.4 L1762.1 352.4 L1762.9 352.5 L1763.8 352.5 L1764.6 352.5 L1765.4 352.5 L1766.2 352.5 L1767.0 352.5 L1767.8 352.5 L1768.6 352.5 L1769.4 352.5 L1770.2 352.5 L1771.1 352.6 L1771.9 352.6 L1772.7 352.6 L1773.5 352.6 L1774.3 352.6 L1775.1 352.6 L1775.9 352.6 L1776.7 352.6 L1777.5 352.6 L1778.4 352.6 L1779.2 352.6 L1780.0 352.6 L1780.8 352.6 L1781.6 352.7 L1782.4 352.7 L1783.2 352.7 L1784.0 352.7 L1784.8 352.7 L1785.6 352.7 L1786.5 352.7 L1787.3 352.7 L1788.1 352.7 L1788.9 352.7 L1789.7 352.7 L1790.5 352.7 L1791.3 352.7 L1792.1 352.7 L1792.9 352.8 L1793.8 352.8 L1794.6 352.8 L1795.4 352.8 L1796.2 352.8 L1797.0 352.8" fill="none" stroke="#34349a" stroke-width="3.0"/>
<path d="M1587.0 344.3 L1587.8 344.3 L1588.6 344.3 L1589.4 344.3 L1590.2 344.3 L1591.1 344.3 L1591.9 344.3 L1592.7 344.4 L1593.5 344.4 L1594.3 344.4 L1595.1 344.4 L1595.9 344.4 L1596.7 344.4 L1597.5 344.4 L1598.4 344.4 L1599.2 344.4 L1600.0 344.3 L1600.8 344.3 L1601.6 344.3 L1602.4 344.2 L1603.2 344.1 L1604.0 344.0 L1604.8 343.8 L1605.6 343.6 L1606.5 343.3 L1607.3 342.9 L1608.1 342.4 L1608.9 341.7 L1609.7 340.9 L1610.5 339.8 L1611.3 338.5 L1612.1 336.8 L1612.9 334.8 L1613.8 332.4 L1614.6 329.6 L1615.4 326.2 L1616.2 322.3 L1617.0 317.8 L1617.8 312.7 L1618.6 307.0 L1619.4 300.7 L1620.2 293.8 L1621.1 286.4 L1621.9 278.6 L1622.7 270.4 L1623.5 262.0 L1624.3 253.6 L1625.1 245.2 L1625.9 237.1 L1626.7 229.4 L1627.5 222.3 L1628.4 216.1 L1629.2 210.8 L1630.0 206.7 L1630.8 203.7 L1631.6 202.1 L1632.4 201.9 L1633.2 203.0 L1634.0 205.4 L1634.8 209.2 L1635.6 214.1 L1636.5 220.0 L1637.3 226.8 L1638.1 234.4 L1638.9 242.4 L1639.7 250.8 L1640.5 259.4 L1641.3 268.0 L1642.1 276.4 L1642.9 284.5 L1643.8 292.2 L1644.6 299.4 L1645.4 306.0 L1646.2 312.1 L1647.0 317.6 L1647.8 322.4 L1648.6 326.7 L1649.4 330.3 L1650.2 333.5 L1651.1 336.2 L1651.9 338.4 L1652.7 340.2 L1653.5 341.7 L1654.3 343.0 L1655.1 344.0 L1655.9 344.7 L1656.7 345.3 L1657.5 345.8 L1658.4 346.2 L1659.2 346.5 L1660.0 346.7 L1660.8 346.8 L1661.6 347.0 L1662.4 347.1 L1663.2 347.1 L1664.0 347.2 L1664.8 347.2 L1665.6 347.2 L1666.5 347.3 L1667.3 347.3 L1668.1 347.3 L1668.9 347.3 L1669.7 347.3 L1670.5 347.3 L1671.3 347.3 L1672.1 347.3 L1672.9 347.3 L1673.8 347.4 L1674.6 347.4 L1675.4 347.4 L1676.2 347.4 L1677.0 347.4 L1677.8 347.4 L1678.6 347.4 L1679.4 347.4 L1680.2 347.4 L1681.1 347.4 L1681.9 347.4 L1682.7 347.4 L1683.5 347.4 L1684.3 347.5 L1685.1 347.5 L1685.9 347.5 L1686.7 347.5 L1687.5 347.5 L1688.4 347.5 L1689.2 347.5 L1690.0 347.5 L1690.8 347.5 L1691.6 347.5 L1692.4 347.4 L1693.2 347.4 L1694.0 347.4 L1694.8 347.3 L1695.6 347.1 L1696.5 347.0 L1697.3 346.7 L1698.1 346.4 L1698.9 346.0 L1699.7 345.5 L1700.5 344.8 L1701.3 343.9 L1702.1 342.8 L1702.9 341.4 L1703.8 339.6 L1704.6 337.4 L1705.4 334.8 L1706.2 331.7 L1707.0 327.9 L1707.8 323.6 L1708.6 318.5 L1709.4 312.6 L1710.2 306.0 L1711.1 298.5 L1711.9 290.2 L1712.7 281.2 L1713.5 271.3 L1714.3 260.8 L1715.1 249.8 L1715.9 238.3 L1716.7 226.6 L1717.5 214.8 L1718.4 203.2 L1719.2 191.9 L1720.0 181.3 L1720.8 171.5 L1721.6 162.8 L1722.4 155.4 L1723.2 149.5 L1724.0 145.2 L1724.8 142.7 L1725.6 142.0 L1726.5 143.1 L1727.3 146.1 L1728.1 150.8 L1728.9 157.2 L1729.7 164.9 L1730.5 174.0 L1731.3 184.1 L1732.1 195.1 L1732.9 206.6 L1733.8 218.4 L1734.6 230.4 L1735.4 242.3 L1736.2 253.9 L1737.0 265.0 L1737.8 275.6 L1738.6 285.5 L1739.4 294.6 L1740.2 302.9 L1741.1 310.4 L1741.9 317.0 L1742.7 322.9 L1743.5 328.0 L1744.3 332.4 L1745.1 336.1 L1745.9 339.3 L1746.7 341.9 L1747.5 344.1 L1748.4 345.8 L1749.2 347.3 L1750.0 348.4 L1750.8 349.4 L1751.6 350.1 L1752.4 350.6 L1753.2 351.1 L1754.0 351.4 L1754.8 351.7 L1755.6 351.9 L1756.5 352.0 L1757.3 352.1 L1758.1 352.2 L1758.9 352.3 L1759.7 352.3 L1760.5 352.4 L1761.3 352.4 L1762.1 352.4 L1762.9 352.4 L1763.8 352.5 L1764.6 352.5 L1765.4 352.5 L1766.2 352.5 L1767.0 352.5 L1767.8 352.5 L1768.6 352.5 L1769.4 352.5 L1770.2 352.5 L1771.1 352.6 L1771.9 352.6 L1772.7 352.6 L1773.5 352.6 L1774.3 352.6 L1775.1 352.6 L1775.9 352.6 L1776.7 352.6 L1777.5 352.6 L1778.4 352.6 L1779.2 352.6 L1780.0 352.6 L1780.8 352.6 L1781.6 352.7 L1782.4 352.7 L1783.2 352.7 L1784.0 352.7 L1784.8 352.7 L1785.6 352.7 L1786.5 352.7 L1787.3 352.7 L1788.1 352.7 L1788.9 352.7 L1789.7 352.7 L1790.5 352.7 L1791.3 352.7 L1792.1 352.7 L1792.9 352.8 L1793.8 352.8 L1794.6 352.8 L1795.4 352.8 L1796.2 352.8 L1797.0 352.8" fill="none" stroke="#dc1a20" stroke-width="3.2" stroke-linejoin="round"/>
<rect x="1528.6" y="43.8" width="288.9" height="348.6" fill="none" stroke="#0a0a0a" stroke-width="2.5"/>
<path d="M1519.3 43.9H1528.6M1519.3 160.1H1528.6M1519.3 276.2H1528.6M1519.3 392.4H1528.6M1523.4 102.0H1528.6M1523.4 218.1H1528.6M1523.4 334.3H1528.6M1573.2 392.4V400.4M1683.9 392.4V400.4M1794.6 392.4V400.4M1628.5 392.4V396.9M1739.2 392.4V396.9" stroke="#0a0a0a" stroke-width="2.4" fill="none"/>
<text x="1463.8" y="50.7" font-size="25" fill="#111" stroke="#111" stroke-width="0.15" textLength="54.8" lengthAdjust="spacingAndGlyphs">7000</text>
<text x="1463.8" y="166.9" font-size="25" fill="#111" stroke="#111" stroke-width="0.15" textLength="54.8" lengthAdjust="spacingAndGlyphs">6000</text>
<text x="1463.8" y="283.0" font-size="25" fill="#111" stroke="#111" stroke-width="0.15" textLength="54.8" lengthAdjust="spacingAndGlyphs">5000</text>
<text x="1463.8" y="399.2" font-size="25" fill="#111" stroke="#111" stroke-width="0.15" textLength="54.8" lengthAdjust="spacingAndGlyphs">4000</text>
<text x="1557.1" y="422.8" font-size="25" fill="#111" stroke="#111" stroke-width="0.15" textLength="40.4" lengthAdjust="spacingAndGlyphs">500</text>
<text x="1667.5" y="422.8" font-size="25" fill="#111" stroke="#111" stroke-width="0.15" textLength="40.3" lengthAdjust="spacingAndGlyphs">490</text>
<text x="1777.9" y="422.8" font-size="25" fill="#111" stroke="#111" stroke-width="0.15" textLength="40.3" lengthAdjust="spacingAndGlyphs">480</text>
<text x="1527.9" y="458.8" font-size="30" fill="#111" stroke="#111" stroke-width="0.15" textLength="296.8" lengthAdjust="spacingAndGlyphs">Binding energy (eV)</text>
<text transform="translate(1437.9,254.3) rotate(-90)" font-size="32.5" fill="#111" stroke="#111" stroke-width="0.15" textLength="102.0" lengthAdjust="spacingAndGlyphs">Counts</text>
<rect x="1564" y="62.2" width="6.9" height="6.9" fill="#0a0a0a"/>
<path d="M1546 89.4H1589.1" stroke="#34349a" stroke-width="3.1"/>
<path d="M1546 113H1589.1" stroke="#dc1a20" stroke-width="3.2"/>
<text x="1598.4" y="72.0" font-size="22" fill="#111" stroke="#111" stroke-width="0.15" textLength="51.1" lengthAdjust="spacingAndGlyphs">Data</text>
<text x="1598.4" y="95.5" font-size="22" fill="#111" stroke="#111" stroke-width="0.15" textLength="125.5" lengthAdjust="spacingAndGlyphs">Background</text>
<text x="1598.4" y="119.2" font-size="22" fill="#111" stroke="#111" stroke-width="0.15" textLength="30.2" lengthAdjust="spacingAndGlyphs">Fit</text>
<text x="1740.2" y="77.3" font-size="25" fill="#111" textLength="70" lengthAdjust="spacingAndGlyphs">Sn 3<tspan font-style="italic">d</tspan></text>
<text x="1409.6" y="30.5" font-size="31" fill="#111" textLength="48.0" lengthAdjust="spacingAndGlyphs"><tspan font-size="37" dy="0.5">(</tspan><tspan dy="-0.5">d</tspan><tspan font-size="37" dy="0.5">)</tspan></text>
<defs><clipPath id="eClip"><rect x="3.0" y="566.0" width="393.6" height="393.6"/></clipPath><filter id="ebl" x="-30%" y="-30%" width="160%" height="160%"><feGaussianBlur stdDeviation="14"/></filter>
<radialGradient id="ePh"><stop offset="0" stop-color="#6a1608" stop-opacity="0.95"/><stop offset="0.4" stop-color="#6a1608" stop-opacity="0.66"/><stop offset="1" stop-color="#6a1608" stop-opacity="0"/></radialGradient><radialGradient id="ePa"><stop offset="0" stop-color="#e4a032" stop-opacity="0.42"/><stop offset="1" stop-color="#e4a032" stop-opacity="0"/></radialGradient><pattern id="eP" width="14.60" height="25.29" patternUnits="userSpaceOnUse" patternTransform="translate(5,570) rotate(7.5)"><circle cx="7.30" cy="0.00" r="4.0" fill="url(#ePa)"/><circle cx="7.30" cy="25.29" r="4.0" fill="url(#ePa)"/><circle cx="3.65" cy="6.32" r="4.0" fill="url(#ePa)"/><circle cx="10.95" cy="6.32" r="4.0" fill="url(#ePa)"/><circle cx="0.00" cy="12.64" r="4.0" fill="url(#ePa)"/><circle cx="14.60" cy="12.64" r="4.0" fill="url(#ePa)"/><circle cx="3.65" cy="18.97" r="4.0" fill="url(#ePa)"/><circle cx="10.95" cy="18.97" r="4.0" fill="url(#ePa)"/><circle cx="0.00" cy="0.00" r="4.7" fill="url(#ePh)"/><circle cx="14.60" cy="0.00" r="4.7" fill="url(#ePh)"/><circle cx="0.00" cy="25.29" r="4.7" fill="url(#ePh)"/><circle cx="14.60" cy="25.29" r="4.7" fill="url(#ePh)"/><circle cx="7.30" cy="12.64" r="4.7" fill="url(#ePh)"/></pattern>
<radialGradient id="eIb"><stop offset="0" stop-color="#fcdc84" stop-opacity="1"/><stop offset="0.45" stop-color="#fcdc84" stop-opacity="0.85"/><stop offset="1" stop-color="#fcdc84" stop-opacity="0"/></radialGradient><radialGradient id="eIk"><stop offset="0" stop-color="#6a1c06" stop-opacity="1"/><stop offset="0.35" stop-color="#6a1c06" stop-opacity="0.8"/><stop offset="1" stop-color="#6a1c06" stop-opacity="0"/></radialGradient><pattern id="eI" width="36.50" height="63.22" patternUnits="userSpaceOnUse" patternTransform="translate(337.1,853.6) rotate(9.5)"><circle cx="0.00" cy="0.00" r="7" fill="url(#eIk)"/><circle cx="36.50" cy="0.00" r="7" fill="url(#eIk)"/><circle cx="0.00" cy="63.22" r="7" fill="url(#eIk)"/><circle cx="36.50" cy="63.22" r="7" fill="url(#eIk)"/><circle cx="18.25" cy="31.61" r="7" fill="url(#eIk)"/><circle cx="18.25" cy="0.00" r="9.6" fill="url(#eIb)"/><circle cx="18.25" cy="63.22" r="9.6" fill="url(#eIb)"/><circle cx="9.12" cy="15.80" r="9.6" fill="url(#eIb)"/><circle cx="27.38" cy="15.80" r="9.6" fill="url(#eIb)"/><circle cx="0.00" cy="31.61" r="9.6" fill="url(#eIb)"/><circle cx="36.50" cy="31.61" r="9.6" fill="url(#eIb)"/><circle cx="9.12" cy="47.41" r="9.6" fill="url(#eIb)"/><circle cx="27.38" cy="47.41" r="9.6" fill="url(#eIb)"/></pattern>
</defs>
<rect x="3.0" y="566.0" width="393.6" height="393.6" fill="#be6218"/>
<g clip-path="url(#eClip)">
<ellipse cx="55.124029065397146" cy="735.5299423703332" rx="65.14657980456026" ry="115.25933350037585" fill="#9c420e" opacity="0.85" filter="url(#ebl)"/>
<ellipse cx="175.39463793535455" cy="595.2142320220496" rx="70.15785517414182" ry="35.07892758707091" fill="#9c420e" opacity="0.8" filter="url(#ebl)"/>
<ellipse cx="340.76672513154597" cy="755.5750438486594" rx="65.14657980456026" ry="40.09020295665247" fill="#a44a10" opacity="0.7" filter="url(#ebl)"/>
<ellipse cx="10.022550739163117" cy="610.2480581307943" rx="30.06765221748935" ry="40.09020295665247" fill="#a44a10" opacity="0.6" filter="url(#ebl)"/>
<ellipse cx="175.39463793535455" cy="705.4622901528439" rx="40.09020295665247" ry="75.16913054372337" fill="#d88a2c" opacity="0.5" filter="url(#ebl)"/>
<ellipse cx="310.6990729140566" cy="640.3157103482836" rx="75.16913054372337" ry="55.124029065397146" fill="#cc7622" opacity="0.35" filter="url(#ebl)"/>
<ellipse cx="125.28188423953895" cy="905.9133049361062" rx="115.25933350037585" ry="45.10147832623402" fill="#cc7622" opacity="0.35" filter="url(#ebl)"/>
<ellipse cx="215.484840892007" cy="820.7216236532197" rx="30.06765221748935" ry="40.09020295665247" fill="#d07c26" opacity="0.3" filter="url(#ebl)"/>
<ellipse cx="65.14657980456026" cy="580.180405913305" rx="35.07892758707091" ry="20.045101478326234" fill="#cc7622" opacity="0.3" filter="url(#ebl)"/>
<rect x="3.0" y="566.0" width="393.6" height="393.6" fill="url(#eP)"/>
<radialGradient id="ed"><stop offset="0" stop-color="#fff8dc"/><stop offset="0.3" stop-color="#ffeeb0" stop-opacity="0.98"/><stop offset="0.6" stop-color="#fad068" stop-opacity="0.75"/><stop offset="1" stop-color="#f0a030" stop-opacity="0"/></radialGradient>
<radialGradient id="ew"><stop offset="0" stop-color="#fad060" stop-opacity="1"/><stop offset="0.55" stop-color="#f4b040" stop-opacity="0.7"/><stop offset="1" stop-color="#e89830" stop-opacity="0"/></radialGradient>
<circle cx="35.1" cy="587.7" r="10.4" fill="url(#ed)"/>
<circle cx="255.6" cy="580.2" r="9.600000000000001" fill="url(#ed)"/>
<circle cx="295.7" cy="575.2" r="9.600000000000001" fill="url(#ed)"/>
<circle cx="235.5" cy="635.3" r="9.600000000000001" fill="url(#ed)"/>
<circle cx="275.6" cy="632.8" r="10.4" fill="url(#ed)"/>
<circle cx="320.7" cy="639.3" r="10.4" fill="url(#ed)"/>
<circle cx="385.9" cy="662.9" r="9.600000000000001" fill="url(#ed)"/>
<circle cx="368.3" cy="685.4" r="8.8" fill="url(#ed)"/>
<circle cx="348.3" cy="703.0" r="8.8" fill="url(#ed)"/>
<circle cx="161.4" cy="716.5" r="10.4" fill="url(#ed)"/>
<circle cx="201.5" cy="749.1" r="8.8" fill="url(#ed)"/>
<circle cx="54.1" cy="794.7" r="8.8" fill="url(#ed)"/>
<circle cx="139.3" cy="892.4" r="9.600000000000001" fill="url(#ed)"/>
<circle cx="131.3" cy="941.0" r="9.600000000000001" fill="url(#ed)"/>
<circle cx="107.7" cy="926.0" r="8.0" fill="url(#ed)"/>
</g>
<rect x="227.4" y="790.7" width="169.2" height="168.9" fill="#c97a20"/>
<rect x="227.4" y="790.7" width="169.2" height="168.9" fill="url(#eI)"/>
<polygon points="337.1,853.6 373.1,858.8 349.6,884.8 313.1,877.6" fill="none" stroke="#111" stroke-width="3.0" stroke-linejoin="miter"/>
<rect x="42.7" y="918.8" width="78.5" height="4.3" fill="#fff"/>
<text x="40.8" y="913.2" font-size="31" fill="#fff" stroke="#fff" stroke-width="0.15" textLength="96.0" lengthAdjust="spacingAndGlyphs">3.4 nm</text>
<text x="2.4" y="553.6" font-size="31" fill="#111" textLength="45.6" lengthAdjust="spacingAndGlyphs"><tspan font-size="37" dy="0.5">(</tspan><tspan dy="-0.5">e</tspan><tspan font-size="37" dy="0.5">)</tspan></text>
<text x="178.7" y="553.6" font-size="32" fill="#111" stroke="#111" stroke-width="0.15" textLength="45.6" lengthAdjust="spacingAndGlyphs">1 L</text>
<defs><clipPath id="fClip"><rect x="434.0" y="566.0" width="393.6" height="393.6"/></clipPath><filter id="fbl" x="-30%" y="-30%" width="160%" height="160%"><feGaussianBlur stdDeviation="14"/></filter>
<radialGradient id="fPh"><stop offset="0" stop-color="#7e2009" stop-opacity="0.85"/><stop offset="0.4" stop-color="#7e2009" stop-opacity="0.59"/><stop offset="1" stop-color="#7e2009" stop-opacity="0"/></radialGradient><radialGradient id="fPa"><stop offset="0" stop-color="#e09830" stop-opacity="0.45"/><stop offset="1" stop-color="#e09830" stop-opacity="0"/></radialGradient><pattern id="fP" width="14.70" height="25.46" patternUnits="userSpaceOnUse" patternTransform="translate(436,570) rotate(-15)"><circle cx="7.35" cy="0.00" r="3.6" fill="url(#fPa)"/><circle cx="7.35" cy="25.46" r="3.6" fill="url(#fPa)"/><circle cx="3.67" cy="6.37" r="3.6" fill="url(#fPa)"/><circle cx="11.02" cy="6.37" r="3.6" fill="url(#fPa)"/><circle cx="0.00" cy="12.73" r="3.6" fill="url(#fPa)"/><circle cx="14.70" cy="12.73" r="3.6" fill="url(#fPa)"/><circle cx="3.67" cy="19.10" r="3.6" fill="url(#fPa)"/><circle cx="11.02" cy="19.10" r="3.6" fill="url(#fPa)"/><circle cx="0.00" cy="0.00" r="3.9" fill="url(#fPh)"/><circle cx="0.00" cy="2.15" r="2.73" fill="url(#fPh)"/><circle cx="-1.86" cy="-1.07" r="2.73" fill="url(#fPh)"/><circle cx="1.86" cy="-1.07" r="2.73" fill="url(#fPh)"/><circle cx="14.70" cy="0.00" r="3.9" fill="url(#fPh)"/><circle cx="14.70" cy="2.15" r="2.73" fill="url(#fPh)"/><circle cx="12.84" cy="-1.07" r="2.73" fill="url(#fPh)"/><circle cx="16.56" cy="-1.07" r="2.73" fill="url(#fPh)"/><circle cx="0.00" cy="25.46" r="3.9" fill="url(#fPh)"/><circle cx="0.00" cy="27.61" r="2.73" fill="url(#fPh)"/><circle cx="-1.86" cy="24.39" r="2.73" fill="url(#fPh)"/><circle cx="1.86" cy="24.39" r="2.73" fill="url(#fPh)"/><circle cx="14.70" cy="25.46" r="3.9" fill="url(#fPh)"/><circle cx="14.70" cy="27.61" r="2.73" fill="url(#fPh)"/><circle cx="12.84" cy="24.39" r="2.73" fill="url(#fPh)"/><circle cx="16.56" cy="24.39" r="2.73" fill="url(#fPh)"/><circle cx="7.35" cy="12.73" r="3.9" fill="url(#fPh)"/><circle cx="7.35" cy="14.88" r="2.73" fill="url(#fPh)"/><circle cx="5.49" cy="11.66" r="2.73" fill="url(#fPh)"/><circle cx="9.21" cy="11.66" r="2.73" fill="url(#fPh)"/></pattern>
<radialGradient id="fIb"><stop offset="0" stop-color="#f8d070" stop-opacity="1"/><stop offset="0.45" stop-color="#f8d070" stop-opacity="0.85"/><stop offset="1" stop-color="#f8d070" stop-opacity="0"/></radialGradient><radialGradient id="fIk"><stop offset="0" stop-color="#5a1004" stop-opacity="1"/><stop offset="0.35" stop-color="#5a1004" stop-opacity="0.8"/><stop offset="1" stop-color="#5a1004" stop-opacity="0"/></radialGradient><pattern id="fI" width="37.00" height="64.09" patternUnits="userSpaceOnUse" patternTransform="translate(776.3,855.5) rotate(-12.3)"><circle cx="0.00" cy="0.00" r="9" fill="url(#fIk)"/><circle cx="37.00" cy="0.00" r="9" fill="url(#fIk)"/><circle cx="0.00" cy="64.09" r="9" fill="url(#fIk)"/><circle cx="37.00" cy="64.09" r="9" fill="url(#fIk)"/><circle cx="18.50" cy="32.04" r="9" fill="url(#fIk)"/><circle cx="18.50" cy="53.40" r="7.20" fill="url(#fIk)" opacity="0.6"/><circle cx="18.50" cy="-10.68" r="7.20" fill="url(#fIk)" opacity="0.6"/><circle cx="0.00" cy="21.36" r="7.20" fill="url(#fIk)" opacity="0.6"/><circle cx="37.00" cy="21.36" r="7.20" fill="url(#fIk)" opacity="0.6"/><circle cx="18.50" cy="0.00" r="9.8" fill="url(#fIb)"/><circle cx="18.50" cy="64.09" r="9.8" fill="url(#fIb)"/><circle cx="9.25" cy="16.02" r="9.8" fill="url(#fIb)"/><circle cx="27.75" cy="16.02" r="9.8" fill="url(#fIb)"/><circle cx="0.00" cy="32.04" r="9.8" fill="url(#fIb)"/><circle cx="37.00" cy="32.04" r="9.8" fill="url(#fIb)"/><circle cx="9.25" cy="48.06" r="9.8" fill="url(#fIb)"/><circle cx="27.75" cy="48.06" r="9.8" fill="url(#fIb)"/><circle cx="18.50" cy="10.68" r="8.2" fill="url(#fIb)"/><circle cx="0.00" cy="42.72" r="8.2" fill="url(#fIb)"/><circle cx="37.00" cy="42.72" r="8.2" fill="url(#fIb)"/></pattern>
</defs>
<rect x="434.0" y="566.0" width="393.6" height="393.6" fill="#c05e18"/>
<g clip-path="url(#fClip)">
<ellipse cx="640" cy="700" rx="120" ry="100" fill="#c8641a" opacity="0.4" filter="url(#fbl)"/>
<rect x="434.0" y="566.0" width="393.6" height="393.6" fill="url(#fP)"/>
<filter id="ftb" x="-5%" y="-5%" width="110%" height="110%"><feGaussianBlur stdDeviation="2.0"/></filter><filter id="ftb2" x="-5%" y="-5%" width="110%" height="110%"><feGaussianBlur stdDeviation="2.6"/></filter>
<path d="M585.4 580.4L595.8 598.7L574.9 598.7ZM592.9 604.9L603.3 623.3L582.5 623.3ZM510.2 613.9L520.6 632.3L499.8 632.3ZM477.6 636.5L488.1 654.9L467.2 654.9ZM586.9 634.0L597.3 652.4L576.4 652.4ZM459.1 654.2L470.3 673.9L447.9 673.9ZM512.7 667.6L523.1 685.9L502.3 685.9ZM708.1 625.0L718.6 643.3L697.7 643.3ZM675.6 662.6L686.0 680.9L665.1 680.9ZM779.8 672.6L790.2 690.9L769.4 690.9ZM614.4 692.6L624.9 711.0L604.0 711.0ZM669.1 691.1L679.5 709.5L658.6 709.5ZM762.3 691.1L772.7 709.5L751.8 709.5ZM477.6 704.1L488.1 722.5L467.2 722.5ZM719.7 704.1L730.1 722.5L709.2 722.5ZM799.4 707.7L809.8 726.0L788.9 726.0ZM582.9 715.2L593.3 733.5L572.4 733.5ZM703.1 721.7L713.6 740.1L692.7 740.1ZM823.4 715.8L832.4 731.5L814.5 731.5ZM768.3 730.7L778.7 749.1L757.9 749.1ZM793.3 735.7L803.8 754.1L782.9 754.1ZM808.4 731.7L818.8 750.1L797.9 750.1ZM645.5 737.7L655.9 756.1L635.1 756.1ZM710.7 747.7L721.1 766.1L700.2 766.1ZM547.8 818.7L557.5 835.8L538.1 835.8ZM507.7 883.7L516.6 899.4L498.8 899.4ZM471.6 921.9L481.3 939.0L461.9 939.0ZM435.0 583.0L444.0 598.7L426.1 598.7Z" fill="#f2aa3c" opacity="0.75" filter="url(#ftb2)"/>
<path d="M585.4 583.7L592.7 596.7L578.0 596.7ZM592.9 608.3L600.2 621.2L585.5 621.2ZM510.2 617.3L517.5 630.2L502.9 630.2ZM477.6 639.9L485.0 652.8L470.3 652.8ZM586.9 637.3L594.2 650.3L579.5 650.3ZM459.1 657.8L467.0 671.7L451.2 671.7ZM512.7 670.9L520.1 683.9L505.4 683.9ZM708.1 628.3L715.5 641.3L700.8 641.3ZM675.6 665.9L682.9 678.8L668.2 678.8ZM779.8 675.9L787.2 688.9L772.5 688.9ZM614.4 696.0L621.8 708.9L607.1 708.9ZM669.1 694.5L676.4 707.4L661.7 707.4ZM762.3 694.5L769.6 707.4L754.9 707.4ZM477.6 707.5L485.0 720.4L470.3 720.4ZM719.7 707.5L727.0 720.4L712.3 720.4ZM799.4 711.0L806.7 723.9L792.0 723.9ZM582.9 718.5L590.2 731.5L575.5 731.5ZM703.1 725.0L710.5 738.0L695.8 738.0ZM823.4 718.7L829.7 729.7L817.1 729.7ZM768.3 734.1L775.6 747.0L760.9 747.0ZM793.3 739.1L800.7 752.0L786.0 752.0ZM808.4 735.1L815.7 748.0L801.0 748.0ZM645.5 741.1L652.8 754.0L638.2 754.0ZM710.7 751.1L718.0 764.0L703.3 764.0ZM547.8 821.8L554.6 833.8L541.0 833.8ZM507.7 886.5L514.0 897.6L501.4 897.6ZM471.6 925.1L478.4 937.1L464.8 937.1ZM435.0 585.9L441.3 596.9L428.7 596.9Z" fill="#ffe288" filter="url(#ftb)"/>
<path d="M585.4 588.2L588.8 594.3L581.9 594.3ZM592.9 612.8L596.4 618.9L589.4 618.9ZM510.2 621.8L513.7 627.9L506.7 627.9ZM477.6 644.4L481.1 650.5L474.2 650.5ZM586.9 641.8L590.4 648.0L583.4 648.0ZM459.1 662.6L462.8 669.2L455.4 669.2ZM512.7 675.4L516.2 681.5L509.2 681.5ZM708.1 632.8L711.6 639.0L704.7 639.0ZM675.6 670.4L679.1 676.5L672.1 676.5ZM779.8 680.4L783.3 686.6L776.3 686.6ZM614.4 700.5L617.9 706.6L611.0 706.6ZM669.1 699.0L672.5 705.1L665.6 705.1ZM762.3 699.0L765.7 705.1L758.8 705.1ZM477.6 712.0L481.1 718.1L474.2 718.1ZM719.7 712.0L723.2 718.1L716.2 718.1ZM799.4 715.5L802.8 721.6L795.9 721.6ZM582.9 723.0L586.3 729.2L579.4 729.2ZM703.1 729.5L706.6 735.7L699.7 735.7ZM823.4 722.6L826.4 727.8L820.4 727.8ZM768.3 738.6L771.8 744.7L764.8 744.7ZM793.3 743.6L796.8 749.7L789.9 749.7ZM808.4 739.6L811.9 745.7L804.9 745.7ZM645.5 745.6L649.0 751.7L642.0 751.7ZM710.7 755.6L714.1 761.7L707.2 761.7ZM547.8 826.0L551.0 831.7L544.6 831.7ZM507.7 890.4L510.7 895.7L504.7 895.7ZM471.6 929.3L474.8 934.9L468.4 934.9ZM435.0 589.8L438.0 595.0L432.1 595.0Z" fill="#fff6c8" filter="url(#ftb)"/>
</g>
<rect x="659.2" y="790.7" width="168.4" height="168.9" fill="#c47220"/>
<rect x="659.2" y="790.7" width="168.4" height="168.9" fill="url(#fI)"/>
<polygon points="776.3,855.5 769.1,890.8 731.9,901.6 739.1,863.6" fill="none" stroke="#111" stroke-width="3.0" stroke-linejoin="miter"/>
<rect x="474" y="918.8" width="78.4" height="4.3" fill="#fff"/>
<text x="462.0" y="913.2" font-size="31" fill="#fff" stroke="#fff" stroke-width="0.15" textLength="96.0" lengthAdjust="spacingAndGlyphs">3.4 nm</text>
<text x="434.4" y="553.6" font-size="31" fill="#111" textLength="38.9" lengthAdjust="spacingAndGlyphs"><tspan font-size="37" dy="0.5">(</tspan><tspan dy="-0.5">f</tspan><tspan font-size="37" dy="0.5">)</tspan></text>
<text x="610.7" y="553.6" font-size="32" fill="#111" stroke="#111" stroke-width="0.15" textLength="46.8" lengthAdjust="spacingAndGlyphs">3 L</text>
<defs><clipPath id="gClip"><rect x="865.6" y="566.0" width="393.6" height="393.6"/></clipPath><filter id="gbl" x="-30%" y="-30%" width="160%" height="160%"><feGaussianBlur stdDeviation="14"/></filter>
<radialGradient id="gPh"><stop offset="0" stop-color="#8e2c0c" stop-opacity="0.75"/><stop offset="0.4" stop-color="#8e2c0c" stop-opacity="0.52"/><stop offset="1" stop-color="#8e2c0c" stop-opacity="0"/></radialGradient><radialGradient id="gPa"><stop offset="0" stop-color="#d87828" stop-opacity="0.35"/><stop offset="1" stop-color="#d87828" stop-opacity="0"/></radialGradient><pattern id="gP" width="15.20" height="26.33" patternUnits="userSpaceOnUse" patternTransform="translate(868,570) rotate(9)"><circle cx="7.60" cy="0.00" r="3.6" fill="url(#gPa)"/><circle cx="7.60" cy="26.33" r="3.6" fill="url(#gPa)"/><circle cx="3.80" cy="6.58" r="3.6" fill="url(#gPa)"/><circle cx="11.40" cy="6.58" r="3.6" fill="url(#gPa)"/><circle cx="0.00" cy="13.16" r="3.6" fill="url(#gPa)"/><circle cx="15.20" cy="13.16" r="3.6" fill="url(#gPa)"/><circle cx="3.80" cy="19.75" r="3.6" fill="url(#gPa)"/><circle cx="11.40" cy="19.75" r="3.6" fill="url(#gPa)"/><circle cx="0.00" cy="0.00" r="4.6" fill="url(#gPh)"/><circle cx="0.00" cy="2.53" r="3.22" fill="url(#gPh)"/><circle cx="-2.19" cy="-1.27" r="3.22" fill="url(#gPh)"/><circle cx="2.19" cy="-1.27" r="3.22" fill="url(#gPh)"/><circle cx="15.20" cy="0.00" r="4.6" fill="url(#gPh)"/><circle cx="15.20" cy="2.53" r="3.22" fill="url(#gPh)"/><circle cx="13.01" cy="-1.27" r="3.22" fill="url(#gPh)"/><circle cx="17.39" cy="-1.27" r="3.22" fill="url(#gPh)"/><circle cx="0.00" cy="26.33" r="4.6" fill="url(#gPh)"/><circle cx="0.00" cy="28.86" r="3.22" fill="url(#gPh)"/><circle cx="-2.19" cy="25.06" r="3.22" fill="url(#gPh)"/><circle cx="2.19" cy="25.06" r="3.22" fill="url(#gPh)"/><circle cx="15.20" cy="26.33" r="4.6" fill="url(#gPh)"/><circle cx="15.20" cy="28.86" r="3.22" fill="url(#gPh)"/><circle cx="13.01" cy="25.06" r="3.22" fill="url(#gPh)"/><circle cx="17.39" cy="25.06" r="3.22" fill="url(#gPh)"/><circle cx="7.60" cy="13.16" r="4.6" fill="url(#gPh)"/><circle cx="7.60" cy="15.69" r="3.22" fill="url(#gPh)"/><circle cx="5.41" cy="11.90" r="3.22" fill="url(#gPh)"/><circle cx="9.79" cy="11.90" r="3.22" fill="url(#gPh)"/></pattern>
<radialGradient id="gIb"><stop offset="0" stop-color="#f5cc68" stop-opacity="1"/><stop offset="0.45" stop-color="#f5cc68" stop-opacity="0.85"/><stop offset="1" stop-color="#f5cc68" stop-opacity="0"/></radialGradient><radialGradient id="gIk"><stop offset="0" stop-color="#4a0c04" stop-opacity="1"/><stop offset="0.35" stop-color="#4a0c04" stop-opacity="0.8"/><stop offset="1" stop-color="#4a0c04" stop-opacity="0"/></radialGradient><pattern id="gI" width="38.80" height="67.20" patternUnits="userSpaceOnUse" patternTransform="translate(1221.9,838.7) rotate(-8.6)"><circle cx="0.00" cy="0.00" r="9.5" fill="url(#gIk)"/><circle cx="38.80" cy="0.00" r="9.5" fill="url(#gIk)"/><circle cx="0.00" cy="67.20" r="9.5" fill="url(#gIk)"/><circle cx="38.80" cy="67.20" r="9.5" fill="url(#gIk)"/><circle cx="19.40" cy="33.60" r="9.5" fill="url(#gIk)"/><circle cx="19.40" cy="56.00" r="7.60" fill="url(#gIk)" opacity="0.55"/><circle cx="19.40" cy="-11.20" r="7.60" fill="url(#gIk)" opacity="0.55"/><circle cx="0.00" cy="22.40" r="7.60" fill="url(#gIk)" opacity="0.55"/><circle cx="38.80" cy="22.40" r="7.60" fill="url(#gIk)" opacity="0.55"/><circle cx="19.40" cy="0.00" r="10.6" fill="url(#gIb)"/><circle cx="19.40" cy="67.20" r="10.6" fill="url(#gIb)"/><circle cx="9.70" cy="16.80" r="10.6" fill="url(#gIb)"/><circle cx="29.10" cy="16.80" r="10.6" fill="url(#gIb)"/><circle cx="0.00" cy="33.60" r="10.6" fill="url(#gIb)"/><circle cx="38.80" cy="33.60" r="10.6" fill="url(#gIb)"/><circle cx="9.70" cy="50.40" r="10.6" fill="url(#gIb)"/><circle cx="29.10" cy="50.40" r="10.6" fill="url(#gIb)"/><circle cx="19.40" cy="11.20" r="8.6" fill="url(#gIb)"/><circle cx="0.00" cy="44.80" r="8.6" fill="url(#gIb)"/><circle cx="38.80" cy="44.80" r="8.6" fill="url(#gIb)"/></pattern>
</defs>
<rect x="865.6" y="566.0" width="393.6" height="393.6" fill="#bf5a17"/>
<g clip-path="url(#gClip)">
<rect x="865.6" y="566.0" width="393.6" height="393.6" fill="url(#gP)"/>
<radialGradient id="gd"><stop offset="0" stop-color="#fff8dc"/><stop offset="0.3" stop-color="#ffeeb0" stop-opacity="0.98"/><stop offset="0.6" stop-color="#fad068" stop-opacity="0.75"/><stop offset="1" stop-color="#f0a030" stop-opacity="0"/></radialGradient>
<radialGradient id="gw"><stop offset="0" stop-color="#fad060" stop-opacity="1"/><stop offset="0.55" stop-color="#f4b040" stop-opacity="0.7"/><stop offset="1" stop-color="#e89830" stop-opacity="0"/></radialGradient>
<circle cx="898.6" cy="590.2" r="13.299999999999999" fill="url(#gd)"/>
<circle cx="920.2" cy="605.2" r="13.299999999999999" fill="url(#gd)"/>
<circle cx="911.1" cy="654.3" r="13.299999999999999" fill="url(#gd)"/>
<circle cx="1025.4" cy="724.0" r="13.299999999999999" fill="url(#gd)"/>
<circle cx="1219.8" cy="663.9" r="13.299999999999999" fill="url(#gd)"/>
<circle cx="1225.8" cy="716.5" r="13.299999999999999" fill="url(#gd)"/>
<circle cx="1254.9" cy="695.4" r="11.2" fill="url(#gd)"/>
<circle cx="1037.9" cy="789.2" r="13.299999999999999" fill="url(#gd)"/>
<circle cx="1149.7" cy="780.6" r="12.6" fill="url(#gd)"/>
<circle cx="1020.4" cy="890.9" r="14.0" fill="url(#gd)"/>
<circle cx="1036.4" cy="891.9" r="12.6" fill="url(#gd)"/>
<circle cx="979.3" cy="935.0" r="12.6" fill="url(#gd)"/>
<circle cx="1015.4" cy="880.9" r="8.399999999999999" fill="url(#gw)"/>
<circle cx="880.1" cy="850.8" r="7.0" fill="url(#gw)"/>
<circle cx="870.0" cy="858.3" r="7.0" fill="url(#gw)"/>
<circle cx="892.6" cy="900.9" r="7.0" fill="url(#gw)"/>
<circle cx="1063.0" cy="908.4" r="7.0" fill="url(#gw)"/>
<circle cx="1070.5" cy="918.4" r="7.0" fill="url(#gw)"/>
<circle cx="873.8" cy="581.4" r="6.4399999999999995" fill="url(#gw)"/>
<circle cx="885.9" cy="574.8" r="6.4399999999999995" fill="url(#gw)"/>
<circle cx="876.0" cy="623.1" r="6.4399999999999995" fill="url(#gw)"/>
<circle cx="924.3" cy="625.3" r="6.4399999999999995" fill="url(#gw)"/>
<circle cx="939.6" cy="631.9" r="6.4399999999999995" fill="url(#gw)"/>
<circle cx="953.9" cy="636.3" r="6.4399999999999995" fill="url(#gw)"/>
<circle cx="941.8" cy="641.7" r="6.4399999999999995" fill="url(#gw)"/>
<circle cx="926.5" cy="639.5" r="6.4399999999999995" fill="url(#gw)"/>
<circle cx="981.4" cy="584.7" r="6.4399999999999995" fill="url(#gw)"/>
<circle cx="994.5" cy="588.0" r="6.4399999999999995" fill="url(#gw)"/>
<circle cx="983.6" cy="596.7" r="6.4399999999999995" fill="url(#gw)"/>
<circle cx="1073.6" cy="572.6" r="6.4399999999999995" fill="url(#gw)"/>
<circle cx="1086.7" cy="568.2" r="6.4399999999999995" fill="url(#gw)"/>
<circle cx="1131.7" cy="594.5" r="6.4399999999999995" fill="url(#gw)"/>
<circle cx="1142.7" cy="601.1" r="6.4399999999999995" fill="url(#gw)"/>
<circle cx="1131.7" cy="607.7" r="6.4399999999999995" fill="url(#gw)"/>
<circle cx="1193.2" cy="603.3" r="6.4399999999999995" fill="url(#gw)"/>
<circle cx="1205.3" cy="611.0" r="6.4399999999999995" fill="url(#gw)"/>
<circle cx="1193.2" cy="617.6" r="6.4399999999999995" fill="url(#gw)"/>
<circle cx="1137.2" cy="647.2" r="6.4399999999999995" fill="url(#gw)"/>
<circle cx="1149.3" cy="653.8" r="6.4399999999999995" fill="url(#gw)"/>
<circle cx="1137.2" cy="660.4" r="6.4399999999999995" fill="url(#gw)"/>
<circle cx="1130.6" cy="671.4" r="6.4399999999999995" fill="url(#gw)"/>
<circle cx="1144.9" cy="678.0" r="6.4399999999999995" fill="url(#gw)"/>
<circle cx="1133.9" cy="684.6" r="6.4399999999999995" fill="url(#gw)"/>
<circle cx="1180.0" cy="678.0" r="6.4399999999999995" fill="url(#gw)"/>
<circle cx="1191.0" cy="685.6" r="6.4399999999999995" fill="url(#gw)"/>
<circle cx="1180.0" cy="692.2" r="6.4399999999999995" fill="url(#gw)"/>
<circle cx="1045.0" cy="669.2" r="6.4399999999999995" fill="url(#gw)"/>
<circle cx="1058.2" cy="676.9" r="6.4399999999999995" fill="url(#gw)"/>
<circle cx="1046.1" cy="684.6" r="6.4399999999999995" fill="url(#gw)"/>
<circle cx="934.2" cy="717.5" r="6.4399999999999995" fill="url(#gw)"/>
<circle cx="946.2" cy="723.0" r="6.4399999999999995" fill="url(#gw)"/>
<circle cx="935.3" cy="729.6" r="6.4399999999999995" fill="url(#gw)"/>
<circle cx="917.7" cy="753.7" r="6.4399999999999995" fill="url(#gw)"/>
<circle cx="930.9" cy="760.3" r="6.4399999999999995" fill="url(#gw)"/>
<circle cx="919.9" cy="766.9" r="6.4399999999999995" fill="url(#gw)"/>
<circle cx="950.6" cy="758.1" r="6.4399999999999995" fill="url(#gw)"/>
<circle cx="962.7" cy="764.7" r="6.4399999999999995" fill="url(#gw)"/>
<circle cx="951.7" cy="771.3" r="6.4399999999999995" fill="url(#gw)"/>
<circle cx="1144.9" cy="736.1" r="6.4399999999999995" fill="url(#gw)"/>
<circle cx="1157.0" cy="742.7" r="6.4399999999999995" fill="url(#gw)"/>
<circle cx="1146.0" cy="749.3" r="6.4399999999999995" fill="url(#gw)"/>
<circle cx="1028.6" cy="770.2" r="6.4399999999999995" fill="url(#gw)"/>
<circle cx="1040.6" cy="774.6" r="6.4399999999999995" fill="url(#gw)"/>
</g>
<rect x="1089.9" y="790.7" width="169.3" height="168.9" fill="#c06a1e"/>
<rect x="1089.9" y="790.7" width="169.3" height="168.9" fill="url(#gI)"/>
<polygon points="1221.9,838.7 1212.3,876.4 1172.7,881.6 1183.5,844.5" fill="none" stroke="#111" stroke-width="3.0" stroke-linejoin="miter"/>
<rect x="905.2" y="918.8" width="78.7" height="4.3" fill="#fff"/>
<text x="894.4" y="913.2" font-size="31" fill="#fff" stroke="#fff" stroke-width="0.15" textLength="96.0" lengthAdjust="spacingAndGlyphs">3.4 nm</text>
<text x="857.2" y="553.6" font-size="31" fill="#111" textLength="46.8" lengthAdjust="spacingAndGlyphs"><tspan font-size="37" dy="0.5">(</tspan><tspan dy="-0.5">g</tspan><tspan font-size="37" dy="0.5">)</tspan></text>
<text x="1038.3" y="553.6" font-size="32" fill="#111" stroke="#111" stroke-width="0.15" textLength="48.0" lengthAdjust="spacingAndGlyphs">4 L</text>
<text x="985.6" y="651.1" font-size="35" fill="#fff" stroke="#fff" stroke-width="0.15" textLength="22.5" lengthAdjust="spacingAndGlyphs">B</text>
<text x="958.7" y="699.6" font-size="35" fill="#fff" stroke="#fff" stroke-width="0.15" textLength="25.2" lengthAdjust="spacingAndGlyphs">A</text>
<g transform="translate(1037.2,665.6) rotate(28)" fill="#fff"><path d="M0 0L-16.3 -9.4L-16.3 -2.6L-24.5 -2.6L-24.5 2.6L-16.3 2.6L-16.3 9.4Z"/></g><g transform="translate(1016.0,713.5) rotate(28)" fill="#fff"><path d="M0 0L-16.3 -9.4L-16.3 -2.6L-24.5 -2.6L-24.5 2.6L-16.3 2.6L-16.3 9.4Z"/></g>
<clipPath id="hclip"><rect x="1389.3" y="506.4" width="421.3" height="420.1"/></clipPath>
<path d="M1424.5 858.2 L1425.7 858.5 L1426.8 858.8 L1428.0 859.0 L1429.2 859.3 L1430.4 859.6 L1431.5 859.8 L1432.7 860.1 L1433.9 860.4 L1435.1 860.7 L1436.2 860.9 L1437.4 861.2 L1438.6 861.5 L1439.8 861.7 L1440.9 862.0 L1442.1 862.2 L1443.3 862.5 L1444.5 862.7 L1445.6 863.0 L1446.8 863.2 L1448.0 863.5 L1449.2 863.7 L1450.3 863.9 L1451.5 864.1 L1452.7 864.4 L1453.8 864.6 L1455.0 864.8 L1456.2 865.0 L1457.4 865.3 L1458.5 865.5 L1459.7 865.7 L1460.9 865.9 L1462.1 866.1 L1463.2 866.3 L1464.4 866.5 L1465.6 866.7 L1466.8 866.9 L1467.9 867.1 L1469.1 867.4 L1470.3 867.5 L1471.5 867.7 L1472.6 867.9 L1473.8 868.1 L1475.0 868.3 L1476.2 868.5 L1477.3 868.7 L1478.5 868.8 L1479.7 869.0 L1480.8 869.2 L1482.0 869.4 L1483.2 869.6 L1484.4 869.7 L1485.5 869.9 L1486.7 870.1 L1487.9 870.3 L1489.1 870.4 L1490.2 870.6 L1491.4 870.8 L1492.6 871.0 L1493.8 871.2 L1494.9 871.3 L1496.1 871.5 L1497.3 871.7 L1498.5 871.9 L1499.6 872.1 L1500.8 872.3 L1502.0 872.5 L1503.2 872.8 L1504.3 873.0 L1505.5 873.2 L1506.7 873.4 L1507.8 873.7 L1509.0 873.9 L1510.2 874.2 L1511.4 874.5 L1512.5 874.7 L1513.7 875.0 L1514.9 875.3 L1516.1 875.6 L1517.2 875.9 L1518.4 876.2 L1519.6 876.5 L1520.8 876.8 L1521.9 877.1 L1523.1 877.4 L1524.3 877.7 L1525.5 878.0 L1526.6 878.3 L1527.8 878.6 L1529.0 878.8 L1530.2 879.1 L1531.3 879.4 L1532.5 879.7 L1533.7 880.0 L1534.8 880.2 L1536.0 880.5 L1537.2 880.7 L1538.4 881.0 L1539.5 881.2 L1540.7 881.4 L1541.9 881.7 L1543.1 881.9 L1544.2 882.1 L1545.4 882.3 L1546.6 882.5 L1547.8 882.7 L1548.9 882.9 L1550.1 883.2 L1551.3 883.4 L1552.5 883.6 L1553.6 883.8 L1554.8 884.0 L1556.0 884.2 L1557.2 884.5 L1558.3 884.7 L1559.5 884.9 L1560.7 885.2 L1561.8 885.4 L1563.0 885.7 L1564.2 886.0 L1565.4 886.2 L1566.5 886.5 L1567.7 886.8 L1568.9 887.1 L1570.1 887.5 L1571.2 887.8 L1572.4 888.1 L1573.6 888.5 L1574.8 888.9 L1575.9 889.2 L1577.1 889.6 L1578.3 890.0 L1579.5 890.4 L1580.6 890.8 L1581.8 891.2 L1583.0 891.6 L1584.2 892.1 L1585.3 892.5 L1586.5 892.9 L1587.7 893.4 L1588.8 893.8 L1590.0 894.1 L1591.2 894.6 L1592.4 895.0 L1593.5 895.6 L1594.7 896.3 L1595.9 897.3 L1597.1 899.4 L1598.2 901.2 L1599.4 901.3 L1600.6 901.3 L1601.8 901.0 L1602.9 899.4 L1604.1 897.3 L1605.3 895.6 L1606.5 894.8 L1607.6 894.2 L1608.8 893.7 L1610.0 893.2 L1611.2 892.8 L1612.3 892.4 L1613.5 892.0 L1614.7 891.6 L1615.8 891.2 L1617.0 890.7 L1618.2 890.3 L1619.4 889.9 L1620.5 889.5 L1621.7 889.1 L1622.9 888.7 L1624.1 888.3 L1625.2 888.0 L1626.4 887.6 L1627.6 887.3 L1628.8 887.0 L1629.9 886.7 L1631.1 886.4 L1632.3 886.2 L1633.5 885.9 L1634.6 885.6 L1635.8 885.4 L1637.0 885.1 L1638.2 884.9 L1639.3 884.6 L1640.5 884.3 L1641.7 884.1 L1642.8 883.8 L1644.0 883.5 L1645.2 883.2 L1646.4 882.8 L1647.5 882.5 L1648.7 882.1 L1649.9 881.7 L1651.1 881.3 L1652.2 880.9 L1653.4 880.4 L1654.6 880.0 L1655.8 879.5 L1656.9 879.0 L1658.1 878.5 L1659.3 877.9 L1660.5 877.3 L1661.6 876.7 L1662.8 876.0 L1664.0 875.3 L1665.2 874.6 L1666.3 873.8 L1667.5 872.9 L1668.7 871.9 L1669.8 870.8 L1671.0 869.6 L1672.2 868.4 L1673.4 867.2 L1674.5 865.8 L1675.7 864.5 L1676.9 863.2 L1678.1 861.8 L1679.2 860.5 L1680.4 859.1 L1681.6 857.6 L1682.8 856.1 L1683.9 854.6 L1685.1 853.0 L1686.3 851.4 L1687.5 849.7 L1688.6 848.0 L1689.8 846.3 L1691.0 844.5 L1692.2 842.7 L1693.3 840.8 L1694.5 839.0 L1695.7 837.1 L1696.8 835.1 L1698.0 833.2 L1699.2 831.2 L1700.4 829.1 L1701.5 827.1 L1702.7 825.0 L1703.9 822.9 L1705.1 820.8 L1706.2 818.7 L1707.4 816.6 L1708.6 814.5 L1709.8 812.4 L1710.9 810.3 L1712.1 808.1 L1713.3 806.0 L1714.5 803.8 L1715.6 801.7 L1716.8 799.6 L1718.0 797.6 L1719.2 795.6 L1720.3 793.6 L1721.5 791.7 L1722.7 789.7 L1723.8 787.8 L1725.0 785.9 L1726.2 783.9 L1727.4 782.0 L1728.5 780.1 L1729.7 778.2 L1730.9 776.3 L1732.1 774.4 L1733.2 772.5 L1734.4 770.7 L1735.6 768.8 L1736.8 766.9 L1737.9 765.0 L1739.1 763.2 L1740.3 761.3 L1741.5 759.4 L1742.6 757.5 L1743.8 755.5 L1745.0 753.5 L1746.2 751.4 L1747.3 749.3 L1748.5 747.1 L1749.7 744.9 L1750.8 742.7 L1752.0 740.4 L1753.2 738.0 L1754.4 735.6 L1755.5 733.1 L1756.7 730.6 L1757.9 728.0 L1759.1 725.3 L1760.2 722.5 L1761.4 719.7 L1762.6 716.8 L1763.8 713.7 L1764.9 710.7 L1766.1 707.5 L1767.3 704.3 L1768.5 700.9 L1769.6 697.5 L1770.8 693.9 L1772.0 690.3 L1773.2 686.6 L1774.3 683.0 L1775.5 679.4" fill="none" stroke="#0a0a0a" stroke-width="2.9" stroke-linejoin="round" clip-path="url(#hclip)"/>
<path d="M1424.5 811.3 L1425.7 811.5 L1426.8 811.7 L1428.0 811.9 L1429.2 812.2 L1430.4 812.4 L1431.5 812.6 L1432.7 812.8 L1433.9 813.0 L1435.1 813.3 L1436.2 813.5 L1437.4 813.7 L1438.6 813.9 L1439.8 814.1 L1440.9 814.3 L1442.1 814.6 L1443.3 814.8 L1444.5 815.0 L1445.6 815.2 L1446.8 815.4 L1448.0 815.6 L1449.2 815.8 L1450.3 816.0 L1451.5 816.3 L1452.7 816.5 L1453.8 816.7 L1455.0 816.9 L1456.2 817.1 L1457.4 817.3 L1458.5 817.5 L1459.7 817.7 L1460.9 817.9 L1462.1 818.1 L1463.2 818.3 L1464.4 818.5 L1465.6 818.7 L1466.8 818.9 L1467.9 819.1 L1469.1 819.2 L1470.3 819.4 L1471.5 819.5 L1472.6 819.7 L1473.8 819.8 L1475.0 820.0 L1476.2 820.1 L1477.3 820.3 L1478.5 820.4 L1479.7 820.5 L1480.8 820.7 L1482.0 820.8 L1483.2 820.9 L1484.4 821.1 L1485.5 821.2 L1486.7 821.3 L1487.9 821.4 L1489.1 821.6 L1490.2 821.7 L1491.4 821.8 L1492.6 821.9 L1493.8 822.1 L1494.9 822.2 L1496.1 822.3 L1497.3 822.4 L1498.5 822.6 L1499.6 822.7 L1500.8 822.8 L1502.0 823.0 L1503.2 823.1 L1504.3 823.2 L1505.5 823.4 L1506.7 823.5 L1507.8 823.6 L1509.0 823.8 L1510.2 823.9 L1511.4 824.0 L1512.5 824.1 L1513.7 824.2 L1514.9 824.4 L1516.1 824.5 L1517.2 824.6 L1518.4 824.7 L1519.6 824.8 L1520.8 825.0 L1521.9 825.1 L1523.1 825.2 L1524.3 825.4 L1525.5 825.5 L1526.6 825.7 L1527.8 825.8 L1529.0 826.0 L1530.2 826.1 L1531.3 826.3 L1532.5 826.5 L1533.7 826.6 L1534.8 826.8 L1536.0 827.0 L1537.2 827.2 L1538.4 827.5 L1539.5 827.7 L1540.7 828.0 L1541.9 828.3 L1543.1 828.6 L1544.2 828.9 L1545.4 829.2 L1546.6 829.5 L1547.8 829.9 L1548.9 830.3 L1550.1 830.6 L1551.3 831.0 L1552.5 831.4 L1553.6 831.8 L1554.8 832.2 L1556.0 832.7 L1557.2 833.1 L1558.3 833.5 L1559.5 834.0 L1560.7 834.6 L1561.8 835.1 L1563.0 835.7 L1564.2 836.3 L1565.4 836.9 L1566.5 837.5 L1567.7 838.2 L1568.9 838.8 L1570.1 839.5 L1571.2 840.1 L1572.4 840.7 L1573.6 841.4 L1574.8 842.0 L1575.9 842.6 L1577.1 843.2 L1578.3 843.8 L1579.5 844.4 L1580.6 845.0 L1581.8 845.6 L1583.0 846.2 L1584.2 846.8 L1585.3 847.4 L1586.5 848.0 L1587.7 848.6 L1588.8 849.2 L1590.0 849.8 L1591.2 850.4 L1592.4 850.8 L1593.5 851.2 L1594.7 851.5 L1595.9 851.8 L1597.1 852.1 L1598.2 852.2 L1599.4 852.1 L1600.6 850.8 L1601.8 849.2 L1602.9 847.9 L1604.1 846.6 L1605.3 845.8 L1606.5 845.7 L1607.6 845.6 L1608.8 845.5 L1610.0 845.5 L1611.2 845.5 L1612.3 845.4 L1613.5 845.4 L1614.7 845.4 L1615.8 845.4 L1617.0 845.5 L1618.2 845.5 L1619.4 845.6 L1620.5 845.6 L1621.7 845.7 L1622.9 845.7 L1624.1 845.7 L1625.2 845.7 L1626.4 845.7 L1627.6 845.6 L1628.8 845.4 L1629.9 845.1 L1631.1 844.8 L1632.3 844.4 L1633.5 844.0 L1634.6 843.6 L1635.8 843.1 L1637.0 842.6 L1638.2 842.1 L1639.3 841.6 L1640.5 841.1 L1641.7 840.5 L1642.8 839.9 L1644.0 839.1 L1645.2 838.3 L1646.4 837.4 L1647.5 836.5 L1648.7 835.5 L1649.9 834.5 L1651.1 833.5 L1652.2 832.4 L1653.4 831.3 L1654.6 830.1 L1655.8 829.0 L1656.9 827.8 L1658.1 826.4 L1659.3 825.1 L1660.5 823.6 L1661.6 822.1 L1662.8 820.6 L1664.0 819.0 L1665.2 817.4 L1666.3 815.7 L1667.5 814.0 L1668.7 812.3 L1669.8 810.5 L1671.0 808.7 L1672.2 807.0 L1673.4 805.1 L1674.5 803.2 L1675.7 801.2 L1676.9 799.1 L1678.1 797.0 L1679.2 794.8 L1680.4 792.6 L1681.6 790.5 L1682.8 788.4 L1683.9 786.3 L1685.1 784.3 L1686.3 782.3 L1687.5 780.2 L1688.6 778.2 L1689.8 776.2 L1691.0 774.3 L1692.2 772.5 L1693.3 770.7 L1694.5 769.0 L1695.7 767.4 L1696.8 765.9 L1698.0 764.4 L1699.2 762.9 L1700.4 761.4 L1701.5 760.0 L1702.7 758.6 L1703.9 757.1 L1705.1 755.6 L1706.2 754.1 L1707.4 752.6 L1708.6 751.1 L1709.8 749.7 L1710.9 748.2 L1712.1 746.7 L1713.3 745.2 L1714.5 743.7 L1715.6 742.2 L1716.8 740.7 L1718.0 739.1 L1719.2 737.6 L1720.3 736.0 L1721.5 734.4 L1722.7 732.9 L1723.8 731.3 L1725.0 729.7 L1726.2 728.0 L1727.4 726.4 L1728.5 724.7 L1729.7 723.0 L1730.9 721.3 L1732.1 719.5 L1733.2 717.8 L1734.4 716.0 L1735.6 714.2 L1736.8 712.3 L1737.9 710.5 L1739.1 708.6 L1740.3 706.7 L1741.5 704.8 L1742.6 702.9 L1743.8 701.0 L1745.0 699.0 L1746.2 697.0 L1747.3 695.0 L1748.5 693.0 L1749.7 691.0 L1750.8 688.9 L1752.0 686.8 L1753.2 684.7 L1754.4 682.5 L1755.5 680.3 L1756.7 678.1 L1757.9 675.9 L1759.1 673.6 L1760.2 671.3 L1761.4 669.0 L1762.6 666.7 L1763.8 664.3 L1764.9 661.9 L1766.1 659.5 L1767.3 657.1 L1768.5 654.6 L1769.6 652.1 L1770.8 649.5 L1772.0 647.0 L1773.2 644.4 L1774.3 641.9 L1775.5 639.4" fill="none" stroke="#34349a" stroke-width="2.9" stroke-linejoin="round" clip-path="url(#hclip)"/>
<path d="M1424.5 792.3 L1425.7 792.5 L1426.8 792.6 L1428.0 792.8 L1429.2 793.0 L1430.4 793.2 L1431.5 793.4 L1432.7 793.6 L1433.9 793.8 L1435.1 794.0 L1436.2 794.1 L1437.4 794.3 L1438.6 794.5 L1439.8 794.7 L1440.9 794.8 L1442.1 795.0 L1443.3 795.1 L1444.5 795.2 L1445.6 795.3 L1446.8 795.4 L1448.0 795.6 L1449.2 795.7 L1450.3 795.8 L1451.5 795.9 L1452.7 796.0 L1453.8 796.1 L1455.0 796.2 L1456.2 796.3 L1457.4 796.4 L1458.5 796.4 L1459.7 796.5 L1460.9 796.6 L1462.1 796.6 L1463.2 796.7 L1464.4 796.7 L1465.6 796.8 L1466.8 796.8 L1467.9 796.8 L1469.1 796.8 L1470.3 796.7 L1471.5 796.7 L1472.6 796.6 L1473.8 796.5 L1475.0 796.4 L1476.2 796.2 L1477.3 796.1 L1478.5 795.9 L1479.7 795.8 L1480.8 795.6 L1482.0 795.4 L1483.2 795.3 L1484.4 795.1 L1485.5 794.9 L1486.7 794.8 L1487.9 794.7 L1489.1 794.5 L1490.2 794.4 L1491.4 794.2 L1492.6 794.1 L1493.8 793.9 L1494.9 793.7 L1496.1 793.6 L1497.3 793.4 L1498.5 793.3 L1499.6 793.2 L1500.8 793.1 L1502.0 793.0 L1503.2 792.9 L1504.3 792.9 L1505.5 792.9 L1506.7 792.9 L1507.8 793.0 L1509.0 793.1 L1510.2 793.1 L1511.4 793.2 L1512.5 793.3 L1513.7 793.4 L1514.9 793.5 L1516.1 793.7 L1517.2 793.8 L1518.4 793.9 L1519.6 794.1 L1520.8 794.2 L1521.9 794.3 L1523.1 794.4 L1524.3 794.5 L1525.5 794.7 L1526.6 794.8 L1527.8 795.0 L1529.0 795.2 L1530.2 795.3 L1531.3 795.5 L1532.5 795.6 L1533.7 795.8 L1534.8 795.9 L1536.0 796.0 L1537.2 796.0 L1538.4 796.1 L1539.5 796.2 L1540.7 796.2 L1541.9 796.3 L1543.1 796.3 L1544.2 796.4 L1545.4 796.4 L1546.6 796.5 L1547.8 796.5 L1548.9 796.6 L1550.1 796.6 L1551.3 796.7 L1552.5 796.7 L1553.6 796.7 L1554.8 796.7 L1556.0 796.8 L1557.2 796.8 L1558.3 796.8 L1559.5 796.8 L1560.7 796.8 L1561.8 796.7 L1563.0 796.6 L1564.2 796.5 L1565.4 796.3 L1566.5 796.1 L1567.7 795.9 L1568.9 795.6 L1570.1 795.3 L1571.2 795.1 L1572.4 794.8 L1573.6 794.6 L1574.8 794.3 L1575.9 794.1 L1577.1 793.8 L1578.3 793.5 L1579.5 793.1 L1580.6 792.8 L1581.8 792.5 L1583.0 792.2 L1584.2 792.0 L1585.3 791.8 L1586.5 791.8 L1587.7 791.8 L1588.8 791.9 L1590.0 792.1 L1591.2 792.4 L1592.4 792.8 L1593.5 793.7 L1594.7 795.5 L1595.9 797.5 L1597.1 799.2 L1598.2 801.1 L1599.4 802.5 L1600.6 802.6 L1601.8 802.1 L1602.9 801.3 L1604.1 800.7 L1605.3 800.1 L1606.5 799.5 L1607.6 799.1 L1608.8 798.7 L1610.0 798.3 L1611.2 798.0 L1612.3 797.6 L1613.5 797.3 L1614.7 797.0 L1615.8 796.7 L1617.0 796.4 L1618.2 796.1 L1619.4 795.8 L1620.5 795.5 L1621.7 795.2 L1622.9 795.0 L1624.1 794.7 L1625.2 794.4 L1626.4 794.1 L1627.6 793.9 L1628.8 793.6 L1629.9 793.3 L1631.1 793.0 L1632.3 792.7 L1633.5 792.5 L1634.6 792.2 L1635.8 791.9 L1637.0 791.6 L1638.2 791.4 L1639.3 791.1 L1640.5 790.8 L1641.7 790.5 L1642.8 790.2 L1644.0 789.9 L1645.2 789.6 L1646.4 789.3 L1647.5 788.9 L1648.7 788.5 L1649.9 788.1 L1651.1 787.7 L1652.2 787.3 L1653.4 786.8 L1654.6 786.3 L1655.8 785.8 L1656.9 785.2 L1658.1 784.6 L1659.3 784.0 L1660.5 783.3 L1661.6 782.6 L1662.8 781.7 L1664.0 780.8 L1665.2 779.8 L1666.3 778.8 L1667.5 777.6 L1668.7 776.5 L1669.8 775.2 L1671.0 774.0 L1672.2 772.6 L1673.4 771.3 L1674.5 769.9 L1675.7 768.3 L1676.9 766.7 L1678.1 765.1 L1679.2 763.3 L1680.4 761.5 L1681.6 759.7 L1682.8 757.8 L1683.9 755.8 L1685.1 753.8 L1686.3 751.8 L1687.5 749.8 L1688.6 747.6 L1689.8 745.3 L1691.0 742.9 L1692.2 740.4 L1693.3 737.9 L1694.5 735.4 L1695.7 732.9 L1696.8 730.5 L1698.0 728.1 L1699.2 725.7 L1700.4 723.2 L1701.5 720.8 L1702.7 718.4 L1703.9 715.9 L1705.1 713.5 L1706.2 711.0 L1707.4 708.6 L1708.6 706.1 L1709.8 703.6 L1710.9 701.1 L1712.1 698.6 L1713.3 696.1 L1714.5 693.7 L1715.6 691.2 L1716.8 688.7 L1718.0 686.2 L1719.2 683.8 L1720.3 681.4 L1721.5 678.9 L1722.7 676.5 L1723.8 674.1 L1725.0 671.7 L1726.2 669.2 L1727.4 666.8 L1728.5 664.3 L1729.7 661.7 L1730.9 659.1 L1732.1 656.6 L1733.2 654.0 L1734.4 651.4 L1735.6 648.8 L1736.8 646.2 L1737.9 643.6 L1739.1 640.9 L1740.3 638.2 L1741.5 635.5 L1742.6 632.7 L1743.8 629.9 L1745.0 627.1 L1746.2 624.2 L1747.3 621.3 L1748.5 618.3 L1749.7 615.3 L1750.8 612.2 L1752.0 609.1 L1753.2 605.9 L1754.4 602.7 L1755.5 599.5 L1756.7 596.2 L1757.9 592.9 L1759.1 589.6 L1760.2 586.3 L1761.4 582.9 L1762.6 579.5 L1763.8 576.1 L1764.9 572.7 L1766.1 569.2 L1767.3 565.7 L1768.5 562.2 L1769.6 558.6 L1770.8 554.9 L1772.0 551.3 L1773.2 547.7 L1774.3 544.0 L1775.5 540.4" fill="none" stroke="#dc1a20" stroke-width="2.9" stroke-linejoin="round" clip-path="url(#hclip)"/>
<path d="M1424.5 751.6 L1425.7 751.7 L1426.8 751.8 L1428.0 751.9 L1429.2 751.9 L1430.4 752.0 L1431.5 752.1 L1432.7 752.1 L1433.9 752.2 L1435.1 752.2 L1436.2 752.1 L1437.4 752.0 L1438.6 751.9 L1439.8 751.7 L1440.9 751.4 L1442.1 751.2 L1443.3 750.9 L1444.5 750.6 L1445.6 750.4 L1446.8 750.1 L1448.0 749.8 L1449.2 749.5 L1450.3 749.2 L1451.5 748.8 L1452.7 748.5 L1453.8 748.1 L1455.0 747.7 L1456.2 747.4 L1457.4 747.0 L1458.5 746.7 L1459.7 746.4 L1460.9 746.0 L1462.1 745.7 L1463.2 745.3 L1464.4 744.9 L1465.6 744.5 L1466.8 744.2 L1467.9 743.8 L1469.1 743.5 L1470.3 743.2 L1471.5 742.9 L1472.6 742.7 L1473.8 742.5 L1475.0 742.4 L1476.2 742.3 L1477.3 742.3 L1478.5 742.2 L1479.7 742.2 L1480.8 742.1 L1482.0 742.1 L1483.2 742.0 L1484.4 742.0 L1485.5 742.0 L1486.7 741.9 L1487.9 741.9 L1489.1 741.9 L1490.2 741.9 L1491.4 741.9 L1492.6 741.9 L1493.8 742.0 L1494.9 742.3 L1496.1 742.8 L1497.3 743.3 L1498.5 743.9 L1499.6 744.2 L1500.8 744.4 L1502.0 744.6 L1503.2 744.7 L1504.3 744.8 L1505.5 744.8 L1506.7 744.7 L1507.8 744.4 L1509.0 744.1 L1510.2 743.8 L1511.4 743.5 L1512.5 743.2 L1513.7 742.7 L1514.9 742.2 L1516.1 741.6 L1517.2 740.9 L1518.4 740.1 L1519.6 739.4 L1520.8 738.6 L1521.9 737.9 L1523.1 737.3 L1524.3 736.7 L1525.5 736.2 L1526.6 735.9 L1527.8 735.7 L1529.0 735.7 L1530.2 735.7 L1531.3 735.7 L1532.5 735.7 L1533.7 735.7 L1534.8 735.7 L1536.0 735.7 L1537.2 735.7 L1538.4 735.7 L1539.5 735.7 L1540.7 735.7 L1541.9 735.7 L1543.1 735.7 L1544.2 735.7 L1545.4 735.7 L1546.6 735.7 L1547.8 735.7 L1548.9 735.7 L1550.1 735.8 L1551.3 735.8 L1552.5 735.9 L1553.6 736.0 L1554.8 736.1 L1556.0 736.3 L1557.2 736.4 L1558.3 736.5 L1559.5 736.7 L1560.7 736.9 L1561.8 737.1 L1563.0 737.3 L1564.2 737.5 L1565.4 737.7 L1566.5 737.9 L1567.7 738.2 L1568.9 738.4 L1570.1 738.7 L1571.2 739.1 L1572.4 739.6 L1573.6 740.3 L1574.8 741.1 L1575.9 741.8 L1577.1 742.6 L1578.3 743.4 L1579.5 744.1 L1580.6 744.7 L1581.8 745.4 L1583.0 746.1 L1584.2 746.7 L1585.3 747.3 L1586.5 747.7 L1587.7 748.1 L1588.8 748.5 L1590.0 748.9 L1591.2 749.5 L1592.4 750.2 L1593.5 751.2 L1594.7 753.1 L1595.9 755.6 L1597.1 759.9 L1598.2 763.8 L1599.4 764.5 L1600.6 764.7 L1601.8 764.6 L1602.9 761.8 L1604.1 758.7 L1605.3 756.6 L1606.5 755.3 L1607.6 755.2 L1608.8 755.3 L1610.0 755.4 L1611.2 755.6 L1612.3 755.7 L1613.5 755.7 L1614.7 755.6 L1615.8 755.1 L1617.0 754.2 L1618.2 753.2 L1619.4 752.4 L1620.5 752.0 L1621.7 751.7 L1622.9 751.4 L1624.1 751.2 L1625.2 751.0 L1626.4 750.9 L1627.6 750.7 L1628.8 750.5 L1629.9 750.3 L1631.1 750.0 L1632.3 749.6 L1633.5 749.2 L1634.6 748.7 L1635.8 748.2 L1637.0 747.5 L1638.2 746.9 L1639.3 746.3 L1640.5 745.6 L1641.7 745.0 L1642.8 744.5 L1644.0 743.9 L1645.2 743.3 L1646.4 742.7 L1647.5 742.1 L1648.7 741.5 L1649.9 740.9 L1651.1 740.3 L1652.2 739.7 L1653.4 739.1 L1654.6 738.5 L1655.8 737.8 L1656.9 737.2 L1658.1 736.5 L1659.3 735.8 L1660.5 735.1 L1661.6 734.5 L1662.8 733.7 L1664.0 733.0 L1665.2 732.2 L1666.3 731.4 L1667.5 730.6 L1668.7 729.7 L1669.8 728.8 L1671.0 727.9 L1672.2 726.9 L1673.4 725.9 L1674.5 724.8 L1675.7 723.7 L1676.9 722.6 L1678.1 721.4 L1679.2 720.2 L1680.4 719.0 L1681.6 717.7 L1682.8 716.3 L1683.9 714.9 L1685.1 713.4 L1686.3 711.9 L1687.5 710.2 L1688.6 708.4 L1689.8 706.6 L1691.0 704.6 L1692.2 702.5 L1693.3 700.3 L1694.5 698.0 L1695.7 695.5 L1696.8 692.8 L1698.0 689.9 L1699.2 687.0 L1700.4 684.1 L1701.5 681.1 L1702.7 677.9 L1703.9 674.7 L1705.1 671.5 L1706.2 668.4 L1707.4 665.3 L1708.6 662.2 L1709.8 659.2 L1710.9 656.1 L1712.1 653.1 L1713.3 650.1 L1714.5 647.1 L1715.6 644.0 L1716.8 641.0 L1718.0 638.0 L1719.2 635.0 L1720.3 632.0 L1721.5 629.0 L1722.7 626.1 L1723.8 623.1 L1725.0 620.1 L1726.2 617.2 L1727.4 614.2 L1728.5 611.2 L1729.7 608.3 L1730.9 605.3 L1732.1 602.4 L1733.2 599.4 L1734.4 596.5 L1735.6 593.5 L1736.8 590.5 L1737.9 587.6 L1739.1 584.7 L1740.3 581.7 L1741.5 578.8 L1742.6 575.9 L1743.8 572.9 L1745.0 570.0 L1746.2 567.0 L1747.3 564.1 L1748.5 561.1 L1749.7 558.1 L1750.8 555.1 L1752.0 552.1 L1753.2 549.1 L1754.4 546.0 L1755.5 543.0 L1756.7 539.9 L1757.9 536.8 L1759.1 533.7 L1760.2 530.6 L1761.4 527.5 L1762.6 524.3 L1763.8 521.2 L1764.9 518.0 L1766.1 514.8 L1767.3 511.6 L1768.5 508.4 L1769.6 505.2 L1770.8 501.9 L1772.0 498.6 L1773.2 495.2 L1774.3 491.9 L1775.5 488.6" fill="none" stroke="#0f9440" stroke-width="2.9" stroke-linejoin="round" clip-path="url(#hclip)"/>
<rect x="1389.3" y="506.4" width="421.3" height="420.1" fill="none" stroke="#0a0a0a" stroke-width="2.5"/>
<path d="M1381.3 926.5H1389.3M1381.3 821.5H1389.3M1381.3 716.5H1389.3M1381.3 611.4H1389.3M1381.3 506.4H1389.3M1384.8 874.0H1389.3M1384.8 769.0H1389.3M1384.8 664.0H1389.3M1384.8 558.9H1389.3M1389.4 926.5V934.5M1424.5 926.5V931.0M1459.6 926.5V934.5M1494.7 926.5V931.0M1529.8 926.5V934.5M1564.9 926.5V931.0M1600.0 926.5V934.5M1635.1 926.5V931.0M1670.2 926.5V934.5M1705.3 926.5V931.0M1740.4 926.5V934.5M1775.5 926.5V931.0M1810.6 926.5V934.5" stroke="#0a0a0a" stroke-width="2.4" fill="none"/>
<text x="1362.4" y="932.8" font-size="26" fill="#111" stroke="#111" stroke-width="0.15" textLength="12.6" lengthAdjust="spacingAndGlyphs">0</text>
<text x="1362.4" y="827.8" font-size="26" fill="#111" stroke="#111" stroke-width="0.15" textLength="12.6" lengthAdjust="spacingAndGlyphs">1</text>
<text x="1362.4" y="722.8" font-size="26" fill="#111" stroke="#111" stroke-width="0.15" textLength="12.6" lengthAdjust="spacingAndGlyphs">2</text>
<text x="1362.4" y="617.7" font-size="26" fill="#111" stroke="#111" stroke-width="0.15" textLength="12.6" lengthAdjust="spacingAndGlyphs">3</text>
<text x="1362.4" y="512.7" font-size="26" fill="#111" stroke="#111" stroke-width="0.15" textLength="12.6" lengthAdjust="spacingAndGlyphs">4</text>
<text x="1360.3" y="959.5" font-size="25" fill="#111" stroke="#111" stroke-width="0.15" textLength="53.7" lengthAdjust="spacingAndGlyphs">−0.6</text>
<text x="1438.3" y="959.5" font-size="25" fill="#111" stroke="#111" stroke-width="0.15" textLength="54.9" lengthAdjust="spacingAndGlyphs">−0.4</text>
<text x="1508.6" y="959.5" font-size="25" fill="#111" stroke="#111" stroke-width="0.15" textLength="54.3" lengthAdjust="spacingAndGlyphs">−0.2</text>
<text x="1587.5" y="959.5" font-size="25" fill="#111" stroke="#111" stroke-width="0.15" textLength="34.1" lengthAdjust="spacingAndGlyphs">0.0</text>
<text x="1657.8" y="959.5" font-size="25" fill="#111" stroke="#111" stroke-width="0.15" textLength="34.2" lengthAdjust="spacingAndGlyphs">0.2</text>
<text x="1728.4" y="959.5" font-size="25" fill="#111" stroke="#111" stroke-width="0.15" textLength="33.9" lengthAdjust="spacingAndGlyphs">0.4</text>
<text x="1798.2" y="959.5" font-size="25" fill="#111" stroke="#111" stroke-width="0.15" textLength="34.2" lengthAdjust="spacingAndGlyphs">0.6</text>
<text x="1511.0" y="994.2" font-size="29" fill="#111" stroke="#111" stroke-width="0.15" textLength="235.8" lengthAdjust="spacingAndGlyphs">Bias voltage (V)</text>
<text transform="translate(1334.0,845.7) rotate(-90)" font-size="33" fill="#111" font-style="italic" letter-spacing="2.5" textLength="39.5" lengthAdjust="spacingAndGlyphs">dI</text>
<text transform="translate(1337.0,803.5) rotate(-90)" font-size="40" fill="#111" letter-spacing="0" textLength="15.0" lengthAdjust="spacingAndGlyphs">/</text>
<text transform="translate(1334.0,780.0) rotate(-90)" font-size="33" fill="#111" font-style="italic" letter-spacing="2.5" textLength="46.0" lengthAdjust="spacingAndGlyphs">dV</text>
<text transform="translate(1334.0,727.5) rotate(-90)" font-size="33" fill="#111" stroke="#111" stroke-width="0.15" textLength="155.5" lengthAdjust="spacingAndGlyphs">(arb. units)</text>
<path d="M1516 528.0H1555.5" stroke="#0a0a0a" stroke-width="3"/>
<text x="1561.4" y="534.9" font-size="22" fill="#111" stroke="#111" stroke-width="0.15" textLength="32.6" lengthAdjust="spacingAndGlyphs">1 L</text>
<path d="M1516 553.5H1555.5" stroke="#34349a" stroke-width="3"/>
<text x="1561.4" y="560.2" font-size="22" fill="#111" stroke="#111" stroke-width="0.15" textLength="32.6" lengthAdjust="spacingAndGlyphs">2 L</text>
<path d="M1516 579.0H1555.5" stroke="#dc1a20" stroke-width="3"/>
<text x="1561.4" y="585.5" font-size="22" fill="#111" stroke="#111" stroke-width="0.15" textLength="32.6" lengthAdjust="spacingAndGlyphs">3 L</text>
<path d="M1516 604.5H1555.5" stroke="#0f9440" stroke-width="3"/>
<text x="1561.4" y="610.8" font-size="22" fill="#111" stroke="#111" stroke-width="0.15" textLength="32.6" lengthAdjust="spacingAndGlyphs">4 L</text>
<text x="1402.1" y="542.9" font-size="31" fill="#111" textLength="44.5" lengthAdjust="spacingAndGlyphs"><tspan font-size="37" dy="0.5">(</tspan><tspan dy="-0.5">h</tspan><tspan font-size="37" dy="0.5">)</tspan></text>
</svg>
</body></html>
